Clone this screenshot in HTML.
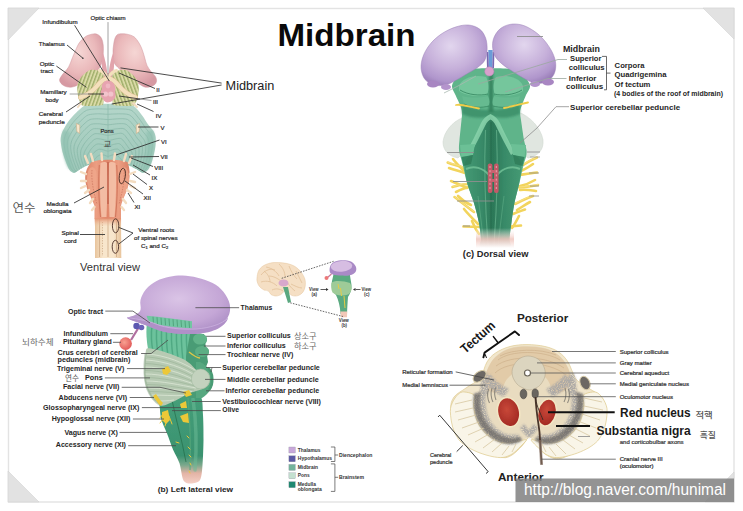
<!DOCTYPE html>
<html lang="ko"><head><meta charset="utf-8"><title>Midbrain</title>
<style>
html,body{margin:0;padding:0;background:#fff;}
body{width:743px;height:511px;overflow:hidden;font-family:"Liberation Sans","Noto Sans CJK KR",sans-serif;}
svg{display:block;}
svg text{font-family:"Liberation Sans","Noto Sans CJK KR",sans-serif;}
</style></head><body>
<svg width="743" height="511" viewBox="0 0 743 511">
<defs>
<filter id="soft" x="-5%" y="-5%" width="110%" height="110%"><feGaussianBlur stdDeviation="0.45"/></filter>
<filter id="soft2" x="-10%" y="-10%" width="120%" height="120%"><feGaussianBlur stdDeviation="1.2"/></filter>
<filter id="soft3" x="-20%" y="-20%" width="140%" height="140%"><feGaussianBlur stdDeviation="2.5"/></filter>
<filter id="stipple" x="-10%" y="-10%" width="120%" height="120%"><feGaussianBlur in="SourceGraphic" stdDeviation="1.1" result="sg"/><feTurbulence type="fractalNoise" baseFrequency="0.85" numOctaves="2" seed="3" result="n"/><feColorMatrix in="n" type="matrix" values="0 0 0 0 0.42  0 0 0 0 0.40  0 0 0 0 0.38  0 0 0 -2.6 2.15" result="nn"/><feComposite operator="in" in="nn" in2="sg"/><feGaussianBlur stdDeviation="0.35"/></filter>
<filter id="tblur"><feGaussianBlur stdDeviation="0.3"/></filter>
<radialGradient id="gPinkL" cx="45%" cy="35%" r="65%"><stop offset="0" stop-color="#f5d6d4"/><stop offset="0.6" stop-color="#eab8ba"/><stop offset="1" stop-color="#d699a2"/></radialGradient>
<radialGradient id="gPinkR" cx="50%" cy="35%" r="65%"><stop offset="0" stop-color="#f5d6d4"/><stop offset="0.6" stop-color="#eab8ba"/><stop offset="1" stop-color="#d699a2"/></radialGradient>
<linearGradient id="gPons" x1="0" y1="0" x2="0" y2="1"><stop offset="0" stop-color="#b4d6ca"/><stop offset="1" stop-color="#9cc7b8"/></linearGradient>
<linearGradient id="gMed" x1="0" y1="0" x2="1" y2="0"><stop offset="0" stop-color="#dc8468"/><stop offset="0.25" stop-color="#ec9e82"/><stop offset="0.5" stop-color="#e0866a"/><stop offset="0.75" stop-color="#ec9e82"/><stop offset="1" stop-color="#d98066"/></linearGradient>
<linearGradient id="gMedFade" x1="0" y1="0" x2="0" y2="1"><stop offset="0" stop-color="#e49474" stop-opacity="1"/><stop offset="1" stop-color="#f0c0a0" stop-opacity="0"/></linearGradient>
<linearGradient id="gCord" x1="0" y1="0" x2="1" y2="0"><stop offset="0" stop-color="#e8c49c"/><stop offset="0.3" stop-color="#f8e6cc"/><stop offset="0.7" stop-color="#f8e6cc"/><stop offset="1" stop-color="#e8c49c"/></linearGradient>
<pattern id="pStripe" width="3.3" height="8" patternUnits="userSpaceOnUse" patternTransform="rotate(20)"><rect width="3.3" height="8" fill="#dadaa6"/><rect width="1.4" height="8" fill="#a0ae6a"/></pattern>
<pattern id="pStripeR" width="3.3" height="8" patternUnits="userSpaceOnUse" patternTransform="rotate(-20)"><rect width="3.3" height="8" fill="#dadaa6"/><rect width="1.4" height="8" fill="#a0ae6a"/></pattern>
<radialGradient id="gPurL" cx="45%" cy="35%" r="68%"><stop offset="0" stop-color="#e2d6ee"/><stop offset="0.55" stop-color="#c6b0da"/><stop offset="0.85" stop-color="#b096cc"/><stop offset="1" stop-color="#9a7eb8"/></radialGradient>
<radialGradient id="gPurR" cx="50%" cy="35%" r="68%"><stop offset="0" stop-color="#e2d6ee"/><stop offset="0.55" stop-color="#c6b0da"/><stop offset="0.85" stop-color="#b096cc"/><stop offset="1" stop-color="#9a7eb8"/></radialGradient>
<linearGradient id="gGreenD" x1="0" y1="0" x2="1" y2="0"><stop offset="0" stop-color="#459a74"/><stop offset="0.3" stop-color="#388a68"/><stop offset="0.5" stop-color="#2c7858"/><stop offset="0.7" stop-color="#388a68"/><stop offset="1" stop-color="#459a74"/></linearGradient>
<linearGradient id="gFadeD" x1="0" y1="0" x2="0" y2="1"><stop offset="0" stop-color="#fff" stop-opacity="0"/><stop offset="0.55" stop-color="#f0c8c0" stop-opacity="0.9"/><stop offset="1" stop-color="#fff" stop-opacity="1"/></linearGradient>
<radialGradient id="gPurLat" cx="50%" cy="40%" r="70%"><stop offset="0" stop-color="#dac4e6"/><stop offset="0.6" stop-color="#c4a6d6"/><stop offset="1" stop-color="#a284be"/></radialGradient>
<linearGradient id="gMedLat" x1="0" y1="0" x2="0" y2="1"><stop offset="0" stop-color="#46a07a"/><stop offset="0.7" stop-color="#3a9270"/><stop offset="0.8" stop-color="#7aa88c"/><stop offset="0.89" stop-color="#e4b4a6"/><stop offset="1" stop-color="#f4d0c6"/></linearGradient>
<radialGradient id="gPit" cx="40%" cy="40%" r="65%"><stop offset="0" stop-color="#f8a090"/><stop offset="1" stop-color="#e05858"/></radialGradient>
<radialGradient id="gRed" cx="45%" cy="40%" r="70%"><stop offset="0" stop-color="#c84838"/><stop offset="1" stop-color="#9c2420"/></radialGradient>
<radialGradient id="gCS" cx="50%" cy="45%" r="65%"><stop offset="0" stop-color="#e4d6bc"/><stop offset="1" stop-color="#f3ead2"/></radialGradient>
</defs>
<rect x="0" y="0" width="743" height="511" fill="#fff"/>
<rect x="8.5" y="8.5" width="725.5" height="493.5" fill="#fff" stroke="#e3e3e3" stroke-width="1.4"/>
<path d="M8 8 L39 8 L8 40 Z" fill="#e2e2e2" stroke="#d4d4d4" stroke-width="0.6"/>
<path d="M734 8 L703 8 L734 39 Z" fill="#e2e2e2" stroke="#d4d4d4" stroke-width="0.6"/>
<path d="M8 502 L8 471 L39 502 Z" fill="#e2e2e2" stroke="#d4d4d4" stroke-width="0.6"/>
<path d="M734 502 L734 472 L705 502 Z" fill="#e2e2e2" stroke="#d4d4d4" stroke-width="0.6"/>
<text x="277.5" y="46" font-size="32" font-weight="bold" textLength="138" lengthAdjust="spacingAndGlyphs" fill="#0a0a0a">Midbrain</text>
<g id="ventral">
<g filter="url(#soft)">
<path d="M95 214 L121 214 L121.3 258 L95 258 Z" fill="url(#gCord)"/>
<path d="M99.5 219 L99.5 257 M108 219 L108 257 M116.5 219 L116.5 257" stroke="#c9a27c" stroke-width="0.7" fill="none"/>
<path d="M102.5 222 L102.5 256" stroke="#caa884" stroke-width="0.8" stroke-dasharray="1.2 1.4" fill="none"/>
<clipPath id="cpPons"><path d="M108.0 103.8 C111.6 103.8 116.3 103.7 120.0 104.0 C123.7 104.3 129.7 104.1 132.8 105.6 C136.0 107.1 138.6 111.1 141.0 114.0 C143.4 116.9 146.7 122.5 148.6 125.0 C150.5 127.5 152.4 129.2 153.5 131.0 C154.6 132.8 155.4 134.8 155.7 137.0 C156.0 139.2 155.8 143.4 155.5 146.0 C155.2 148.6 154.6 151.4 154.0 154.0 C153.4 156.6 152.4 160.6 151.5 163.0 C150.6 165.4 149.3 168.5 148.0 170.0 C146.7 171.5 144.3 172.8 143.0 173.0 C141.7 173.2 140.7 171.7 139.5 171.0 C138.3 170.3 136.4 169.2 135.0 168.5 C133.6 167.8 131.7 166.7 130.0 166.0 C128.3 165.3 126.1 164.6 124.0 164.0 C121.9 163.4 118.4 162.4 116.0 162.0 C113.6 161.6 110.4 161.5 108.0 161.5 C105.6 161.5 102.4 161.6 100.0 162.0 C97.6 162.4 94.1 163.4 92.0 164.0 C89.9 164.6 87.6 165.3 86.0 166.0 C84.4 166.7 82.8 167.8 81.5 168.5 C80.2 169.2 78.6 170.3 77.5 171.0 C76.4 171.7 75.2 173.2 74.0 173.0 C72.8 172.8 70.7 171.7 69.5 170.0 C68.3 168.3 67.0 164.7 65.9 162.0 C64.9 159.3 63.3 155.2 62.5 152.0 C61.7 148.8 60.8 143.5 60.6 140.8 C60.5 138.1 61.0 135.8 61.5 134.0 C62.0 132.2 63.0 130.3 64.0 128.5 C65.0 126.7 66.7 123.9 68.0 122.0 C69.3 120.1 71.2 117.8 72.9 116.0 C74.6 114.2 77.2 111.6 79.0 110.0 C80.8 108.4 82.7 106.5 85.2 105.6 C87.8 104.7 92.6 104.3 96.0 104.0 C99.4 103.7 104.4 103.8 108.0 103.8 Z"/></clipPath>
<path d="M108.0 103.8 C111.6 103.8 116.3 103.7 120.0 104.0 C123.7 104.3 129.7 104.1 132.8 105.6 C136.0 107.1 138.6 111.1 141.0 114.0 C143.4 116.9 146.7 122.5 148.6 125.0 C150.5 127.5 152.4 129.2 153.5 131.0 C154.6 132.8 155.4 134.8 155.7 137.0 C156.0 139.2 155.8 143.4 155.5 146.0 C155.2 148.6 154.6 151.4 154.0 154.0 C153.4 156.6 152.4 160.6 151.5 163.0 C150.6 165.4 149.3 168.5 148.0 170.0 C146.7 171.5 144.3 172.8 143.0 173.0 C141.7 173.2 140.7 171.7 139.5 171.0 C138.3 170.3 136.4 169.2 135.0 168.5 C133.6 167.8 131.7 166.7 130.0 166.0 C128.3 165.3 126.1 164.6 124.0 164.0 C121.9 163.4 118.4 162.4 116.0 162.0 C113.6 161.6 110.4 161.5 108.0 161.5 C105.6 161.5 102.4 161.6 100.0 162.0 C97.6 162.4 94.1 163.4 92.0 164.0 C89.9 164.6 87.6 165.3 86.0 166.0 C84.4 166.7 82.8 167.8 81.5 168.5 C80.2 169.2 78.6 170.3 77.5 171.0 C76.4 171.7 75.2 173.2 74.0 173.0 C72.8 172.8 70.7 171.7 69.5 170.0 C68.3 168.3 67.0 164.7 65.9 162.0 C64.9 159.3 63.3 155.2 62.5 152.0 C61.7 148.8 60.8 143.5 60.6 140.8 C60.5 138.1 61.0 135.8 61.5 134.0 C62.0 132.2 63.0 130.3 64.0 128.5 C65.0 126.7 66.7 123.9 68.0 122.0 C69.3 120.1 71.2 117.8 72.9 116.0 C74.6 114.2 77.2 111.6 79.0 110.0 C80.8 108.4 82.7 106.5 85.2 105.6 C87.8 104.7 92.6 104.3 96.0 104.0 C99.4 103.7 104.4 103.8 108.0 103.8 Z" fill="url(#gPons)"/>
<g fill="none" stroke="#82b3a3" stroke-width="0.7" opacity="0.85" clip-path="url(#cpPons)"><path d="M78.2 172.0 C77.3 171.7 73.6 171.5 72.2 170.1 C70.8 168.7 69.8 165.2 68.8 162.7 C67.9 160.2 66.4 156.4 65.7 153.4 C64.9 150.4 64.1 145.5 63.9 143.0 C63.8 140.5 64.3 138.4 64.8 136.7 C65.2 134.9 66.2 133.2 67.1 131.5 C68.0 129.9 69.6 127.2 70.8 125.5 C72.0 123.8 73.8 121.6 75.4 119.9 C76.9 118.2 79.3 115.8 81.0 114.3 C82.7 112.9 84.4 111.1 86.8 110.2 C89.2 109.4 93.7 109.0 96.8 108.9 C100.0 108.7 104.7 109.1 108.0 109.1 C111.3 109.1 115.7 108.7 119.2 108.9 C122.6 109.0 128.1 108.9 131.1 110.2 C134.0 111.6 136.5 115.4 138.7 118.1 C140.9 120.8 144.0 125.9 145.8 128.3 C147.5 130.7 149.3 132.2 150.3 133.9 C151.3 135.5 152.1 137.4 152.4 139.4 C152.6 141.5 152.4 145.4 152.2 147.8 C151.9 150.2 151.3 152.9 150.8 155.3 C150.2 157.6 149.3 161.4 148.5 163.6 C147.6 165.9 146.7 168.9 145.2 170.1 C143.7 171.4 139.7 171.7 138.7 172.0"/><path d="M80.5 172.0 C79.6 171.7 76.2 171.6 74.9 170.3 C73.6 169.0 72.7 165.7 71.8 163.4 C70.9 161.1 69.6 157.5 68.9 154.8 C68.2 152.1 67.4 147.5 67.2 145.2 C67.1 142.8 67.6 140.9 68.0 139.3 C68.4 137.7 69.3 136.1 70.2 134.6 C71.0 133.0 72.5 130.6 73.6 129.0 C74.7 127.4 76.4 125.4 77.8 123.8 C79.2 122.3 81.5 120.0 83.1 118.7 C84.6 117.3 86.2 115.6 88.4 114.9 C90.6 114.2 94.7 113.9 97.7 113.8 C100.6 113.7 104.9 114.3 108.0 114.3 C111.1 114.3 115.1 113.7 118.3 113.8 C121.5 113.9 126.6 113.6 129.3 114.9 C132.0 116.1 134.3 119.6 136.4 122.1 C138.4 124.6 141.3 129.4 142.9 131.6 C144.5 133.8 146.2 135.2 147.1 136.7 C148.0 138.3 148.8 140.0 149.0 141.9 C149.3 143.8 149.1 147.4 148.8 149.6 C148.6 151.8 148.1 154.3 147.6 156.5 C147.0 158.7 146.2 162.2 145.4 164.3 C144.6 166.3 143.8 169.1 142.4 170.3 C141.0 171.4 137.3 171.7 136.4 172.0"/><path d="M82.7 172.0 C81.9 171.8 78.8 171.6 77.6 170.4 C76.4 169.2 75.6 166.2 74.7 164.1 C73.9 162.0 72.7 158.7 72.1 156.2 C71.4 153.7 70.7 149.5 70.6 147.4 C70.4 145.2 70.9 143.4 71.3 142.0 C71.7 140.5 72.5 139.1 73.2 137.6 C74.0 136.2 75.3 134.0 76.4 132.5 C77.5 131.0 79.0 129.2 80.3 127.8 C81.6 126.3 83.6 124.3 85.1 123.0 C86.5 121.8 88.0 120.2 90.0 119.5 C92.0 118.9 95.8 118.7 98.5 118.8 C101.2 118.8 105.2 119.6 108.0 119.6 C110.8 119.6 114.5 118.8 117.5 118.8 C120.4 118.7 125.1 118.4 127.6 119.5 C130.1 120.7 132.2 123.9 134.1 126.2 C135.9 128.5 138.6 132.9 140.1 134.9 C141.6 136.9 143.1 138.2 143.9 139.6 C144.8 141.0 145.4 142.6 145.7 144.3 C145.9 146.1 145.7 149.4 145.5 151.5 C145.3 153.5 144.8 155.8 144.3 157.8 C143.9 159.8 143.1 163.0 142.4 164.9 C141.7 166.8 140.8 169.4 139.6 170.4 C138.4 171.5 134.9 171.8 134.1 172.0"/><path d="M85.0 172.0 C84.3 171.8 81.4 171.6 80.3 170.6 C79.2 169.5 78.4 166.7 77.7 164.8 C76.9 162.9 75.8 159.9 75.2 157.6 C74.7 155.3 74.0 151.5 73.9 149.5 C73.8 147.6 74.2 146.0 74.5 144.6 C74.9 143.3 75.6 142.0 76.3 140.7 C77.0 139.4 78.2 137.3 79.2 136.0 C80.2 134.7 81.5 133.0 82.7 131.7 C83.9 130.4 85.8 128.5 87.1 127.4 C88.4 126.2 89.7 124.7 91.6 124.2 C93.4 123.7 96.9 123.7 99.4 123.8 C101.8 123.9 105.4 124.9 108.0 124.9 C110.6 124.9 114.0 123.9 116.6 123.8 C119.3 123.7 123.6 123.2 125.9 124.2 C128.1 125.2 130.1 128.1 131.8 130.2 C133.5 132.3 135.9 136.3 137.2 138.2 C138.6 140.0 140.0 141.2 140.8 142.5 C141.5 143.8 142.1 145.2 142.3 146.8 C142.6 148.4 142.4 151.4 142.2 153.3 C142.0 155.1 141.6 157.2 141.1 159.0 C140.7 160.9 140.0 163.8 139.3 165.5 C138.7 167.2 137.9 169.6 136.8 170.6 C135.7 171.5 132.5 171.8 131.8 172.0"/><path d="M87.2 172.0 C86.6 171.8 84.0 171.7 83.0 170.7 C82.0 169.7 81.3 167.3 80.6 165.5 C80.0 163.7 78.9 161.1 78.4 159.0 C77.9 156.9 77.3 153.5 77.2 151.7 C77.1 150.0 77.4 148.5 77.8 147.3 C78.1 146.1 78.8 144.9 79.4 143.7 C80.0 142.6 81.1 140.7 82.0 139.5 C82.9 138.3 84.1 136.8 85.2 135.6 C86.3 134.4 88.0 132.7 89.2 131.7 C90.3 130.7 91.5 129.3 93.2 128.8 C94.8 128.4 98.0 128.7 100.2 128.9 C102.4 129.1 105.7 130.1 108.0 130.1 C110.3 130.1 113.4 129.1 115.8 128.9 C118.2 128.7 122.1 128.0 124.1 128.8 C126.2 129.7 127.9 132.4 129.4 134.3 C131.0 136.2 133.2 139.8 134.4 141.4 C135.6 143.1 136.9 144.2 137.6 145.3 C138.3 146.5 138.8 147.8 139.0 149.2 C139.2 150.7 139.0 153.4 138.9 155.1 C138.7 156.8 138.3 158.6 137.9 160.3 C137.5 162.0 136.9 164.6 136.3 166.2 C135.7 167.7 135.0 169.8 134.0 170.7 C133.0 171.6 130.1 171.8 129.4 172.0"/><path d="M89.4 172.0 C88.9 171.8 86.5 171.7 85.7 170.8 C84.8 170.0 84.2 167.8 83.6 166.2 C83.0 164.6 82.1 162.2 81.6 160.4 C81.1 158.6 80.6 155.5 80.5 153.9 C80.4 152.3 80.7 151.0 81.0 150.0 C81.3 148.9 81.9 147.8 82.5 146.8 C83.0 145.7 84.0 144.1 84.8 143.0 C85.6 141.9 86.7 140.6 87.6 139.5 C88.6 138.5 90.1 136.9 91.2 136.0 C92.3 135.2 93.3 134.0 94.8 133.7 C96.3 133.4 99.1 133.8 101.0 134.0 C103.0 134.3 105.9 135.4 108.0 135.4 C110.1 135.4 112.8 134.3 115.0 134.0 C117.1 133.8 120.6 132.8 122.4 133.5 C124.2 134.1 125.8 136.7 127.1 138.4 C128.5 140.0 130.5 143.3 131.5 144.7 C132.6 146.2 133.8 147.2 134.4 148.2 C135.0 149.3 135.5 150.4 135.7 151.7 C135.8 153.0 135.7 155.4 135.6 156.9 C135.4 158.4 135.0 160.1 134.7 161.6 C134.3 163.0 133.8 165.4 133.2 166.8 C132.7 168.2 132.1 170.1 131.2 170.8 C130.3 171.6 127.7 171.8 127.1 172.0"/><path d="M91.7 172.0 C91.2 171.8 89.1 171.7 88.4 171.0 C87.6 170.2 87.1 168.3 86.5 166.9 C86.0 165.5 85.2 163.4 84.8 161.8 C84.4 160.2 83.9 157.5 83.8 156.1 C83.7 154.7 84.0 153.6 84.3 152.6 C84.5 151.7 85.1 150.7 85.6 149.8 C86.1 148.9 86.9 147.5 87.6 146.5 C88.3 145.5 89.3 144.4 90.1 143.4 C90.9 142.5 92.3 141.1 93.2 140.4 C94.2 139.7 95.1 138.9 96.4 138.7 C97.7 138.5 100.1 139.0 101.9 139.3 C103.6 139.5 106.2 140.6 108.0 140.6 C109.8 140.6 112.2 139.6 114.1 139.3 C116.0 138.9 119.0 138.0 120.6 138.5 C122.3 138.9 123.6 141.0 124.8 142.4 C126.0 143.9 127.7 146.7 128.7 148.0 C129.7 149.3 130.7 150.2 131.2 151.1 C131.7 152.0 132.2 153.0 132.3 154.2 C132.5 155.3 132.4 157.4 132.2 158.7 C132.1 160.0 131.8 161.5 131.5 162.8 C131.2 164.1 130.6 166.2 130.2 167.4 C129.7 168.6 129.2 170.3 128.4 171.0 C127.6 171.7 125.4 171.8 124.8 172.0"/><path d="M93.9 172.0 C93.5 171.9 91.7 171.8 91.1 171.1 C90.4 170.5 89.9 168.8 89.5 167.6 C89.0 166.4 88.3 164.6 88.0 163.2 C87.6 161.8 87.2 159.5 87.1 158.3 C87.1 157.1 87.3 156.1 87.5 155.3 C87.8 154.5 88.2 153.7 88.6 152.9 C89.1 152.1 89.8 150.8 90.4 150.0 C91.0 149.2 91.8 148.1 92.6 147.4 C93.3 146.6 94.4 145.6 95.2 145.1 C96.1 144.5 96.8 144.0 98.0 143.9 C99.1 143.8 101.2 144.2 102.7 144.5 C104.2 144.8 106.4 145.9 108.0 145.9 C109.6 145.9 111.6 144.9 113.3 144.5 C114.9 144.2 117.5 143.4 118.9 143.6 C120.3 143.9 121.5 145.3 122.5 146.5 C123.6 147.6 125.0 150.2 125.9 151.3 C126.7 152.4 127.6 153.2 128.0 154.0 C128.5 154.8 128.9 155.6 129.0 156.6 C129.1 157.6 129.0 159.4 128.9 160.6 C128.8 161.7 128.5 163.0 128.2 164.1 C128.0 165.2 127.5 167.0 127.1 168.0 C126.7 169.1 126.3 170.5 125.6 171.1 C124.9 171.7 123.0 171.9 122.5 172.0"/><path d="M96.2 172.7 C95.8 172.5 94.3 171.9 93.8 171.3 C93.2 170.6 92.8 169.3 92.4 168.3 C92.0 167.3 91.5 165.8 91.2 164.6 C90.9 163.4 90.5 161.5 90.5 160.5 C90.4 159.5 90.6 158.6 90.8 157.9 C91.0 157.3 91.4 156.6 91.7 155.9 C92.1 155.2 92.7 154.1 93.2 153.5 C93.7 152.9 94.4 152.1 95.0 151.6 C95.6 151.1 96.6 150.5 97.3 150.1 C98.0 149.7 98.6 149.2 99.6 149.2 C100.5 149.1 102.3 149.6 103.6 149.9 C104.8 150.2 106.7 151.2 108.0 151.2 C109.3 151.2 111.1 150.2 112.4 149.9 C113.8 149.5 116.0 148.8 117.2 149.0 C118.3 149.1 119.3 150.3 120.2 151.1 C121.1 152.0 122.3 153.8 123.0 154.6 C123.7 155.5 124.4 156.2 124.8 156.8 C125.2 157.5 125.5 158.2 125.6 159.1 C125.8 159.9 125.7 161.4 125.6 162.4 C125.5 163.3 125.2 164.4 125.0 165.3 C124.8 166.3 124.4 167.8 124.1 168.7 C123.8 169.6 123.4 170.7 122.8 171.3 C122.2 171.8 120.6 172.4 120.2 172.6"/><path d="M98.4 173.5 C98.1 173.3 96.9 172.9 96.5 172.3 C96.0 171.6 95.7 170.4 95.4 169.5 C95.1 168.6 94.6 167.1 94.3 166.1 C94.1 165.1 93.8 163.5 93.8 162.6 C93.7 161.8 93.9 161.1 94.0 160.6 C94.2 160.1 94.5 159.7 94.8 159.2 C95.1 158.8 95.6 158.1 96.0 157.7 C96.4 157.3 97.0 156.8 97.5 156.4 C98.0 156.0 98.7 155.5 99.3 155.3 C99.9 155.0 100.4 154.6 101.2 154.6 C101.9 154.6 103.4 155.0 104.4 155.2 C105.4 155.5 106.9 156.4 108.0 156.4 C109.1 156.4 110.5 155.5 111.6 155.2 C112.7 154.9 114.5 154.3 115.4 154.4 C116.4 154.5 117.2 155.4 117.9 156.0 C118.6 156.7 119.6 158.0 120.2 158.5 C120.7 159.1 121.3 159.4 121.7 159.8 C122.0 160.3 122.2 160.8 122.3 161.5 C122.4 162.2 122.3 163.4 122.2 164.2 C122.2 165.0 122.0 165.9 121.8 166.7 C121.6 167.5 121.3 168.8 121.0 169.6 C120.8 170.4 120.5 171.5 120.0 172.1 C119.5 172.7 118.2 173.2 117.9 173.4"/></g>
<path d="M108 104 L108 158" stroke="#8fbcae" stroke-width="1.2" fill="none" opacity="0.7"/>
<g filter="url(#soft2)"><path d="M63 130 C61 142 62 156 68 168 L74 171 C69 158 68 144 70 132 Z" fill="#8fc0b0" opacity="0.7"/><path d="M153 130 C155 142 154 156 148 168 L142 171 C147 158 148 144 146 132 Z" fill="#8fc0b0" opacity="0.7"/></g>
<path d="M91.5 162 C97 159 120 159 127.5 162 C130 168 130 175 129 182 C127 192 122 200 121 206 L121 219 L94.5 219 L94.5 206 C93 200 87 192 85.5 182 C84.5 175 86 168 91.5 162 Z" fill="url(#gMed)"/>
<g filter="url(#soft)">
<path d="M100.5 163 C103 161.5 106 161.5 107 163 C107.5 180 107.3 200 106.5 217 L101.5 217 C100 200 99.5 180 100.5 163 Z" fill="#f6c4ac" opacity="0.85"/>
<path d="M115.5 163 C113 161.5 110 161.5 109 163 C108.5 180 108.7 200 109.5 217 L114.5 217 C116 200 116.5 180 115.5 163 Z" fill="#f6c4ac" opacity="0.85"/>
<path d="M90 168 C93 166 96 168 96.5 174 C97 184 96 194 94.5 200 C91 196 87.5 188 87 180 C87 175 88 170 90 168 Z" fill="#f0a88c" opacity="0.8"/>
<path d="M126 168 C123 166 120 168 119.5 174 C119 184 120 194 121.5 200 C125 196 128.5 188 129 180 C129 175 128 170 126 168 Z" fill="#f0a88c" opacity="0.8"/>
</g>
<path d="M108 162 L108 204" stroke="#b4523e" stroke-width="1" fill="none"/>
<path d="M99.3 165 C98.3 180 98.5 198 100.5 217 M116.7 165 C117.7 180 117.5 198 115.5 217" stroke="#c86a52" stroke-width="0.9" fill="none" opacity="0.85"/>
<path d="M92 170 C91 180 94 194 97 204 M124 170 C125 180 122 194 119 204" stroke="#c8705a" stroke-width="0.8" stroke-dasharray="1.5 1.2" fill="none" opacity="0.8"/>
<rect x="94.6" y="218.5" width="26.4" height="8" fill="url(#gMedFade)"/>
<g stroke="#f3dcc0" stroke-width="2.4" stroke-linecap="round" fill="none"><path d="M88 163 L85 156"/><path d="M93 161 L91 154"/><path d="M102 160 L101.5 153.5"/><path d="M114 160 L115 153.5"/><path d="M124 161 L126 154"/><path d="M129 163 L132 156"/><path d="M86 174 L81 172"/><path d="M86 181 L81 181"/><path d="M130 174 L135 172"/><path d="M130 181 L135 182"/><path d="M127 190 L131 193"/><path d="M89 190 L85 193"/><path d="M85.5 186 L81 188"/><path d="M130.5 186 L135 188"/><path d="M123 199 L126 203"/><path d="M93 199 L90 203"/><path d="M121.5 207 L124 210"/><path d="M94.5 207 L92 210"/></g>
<path d="M76.3 123.5 L79.8 125 L79.6 133.5 L76.8 131.5 Z" fill="#f7e6cc" stroke="#c9a67c" stroke-width="0.5"/>
<path d="M139.7 123.5 L136.2 125 L136.4 133.5 L139.2 131.5 Z" fill="#f7e6cc" stroke="#c9a67c" stroke-width="0.5"/>
<path d="M93.6 33.9 C95.6 33.7 97.2 34.2 98.5 35.0 C99.8 35.8 100.9 37.0 101.7 38.7 C102.5 40.4 102.9 42.8 103.2 45.0 C103.5 47.2 103.4 49.7 103.3 52.0 C103.2 54.3 103.2 56.7 102.7 59.0 C102.2 61.3 101.5 64.0 100.5 66.0 C99.5 68.0 98.8 69.3 97.0 71.0 C95.2 72.7 92.2 74.3 90.0 76.0 C87.8 77.7 85.8 79.6 84.0 81.0 C82.2 82.4 81.3 83.5 79.1 84.5 C76.9 85.5 73.6 87.0 71.0 87.2 C68.4 87.4 65.6 86.7 63.7 85.6 C61.8 84.5 59.9 82.5 59.6 80.7 C59.3 79.0 60.6 77.4 62.1 75.1 C63.6 72.8 66.8 70.0 68.6 67.0 C70.3 64.0 71.1 60.8 72.6 57.3 C74.1 53.8 76.1 48.8 77.5 46.0 C78.9 43.2 79.6 42.3 81.1 40.6 C82.6 38.9 84.4 37.1 86.5 36.0 C88.6 34.9 91.6 34.1 93.6 33.9 Z" fill="url(#gPinkL)" stroke="#cf949c" stroke-width="0.5"/>
<path d="M119.5 33.9 C121.2 33.7 124.6 33.7 127.0 34.2 C129.4 34.7 132.0 35.3 134.0 36.8 C136.0 38.3 137.7 40.9 139.0 43.0 C140.3 45.1 141.1 46.9 142.0 49.2 C142.9 51.5 143.7 54.3 144.5 57.0 C145.3 59.7 145.9 63.0 147.0 65.4 C148.1 67.8 149.6 69.6 151.0 71.5 C152.4 73.4 154.6 75.0 155.5 76.7 C156.4 78.4 156.8 80.0 156.5 81.5 C156.2 83.0 155.3 84.5 153.4 85.5 C151.5 86.5 148.0 87.7 145.3 87.2 C142.6 86.7 139.8 84.3 137.2 82.5 C134.6 80.7 132.4 78.2 130.0 76.5 C127.6 74.8 125.1 73.6 123.0 72.0 C120.9 70.4 119.0 68.6 117.5 67.0 C116.0 65.4 114.8 64.6 114.0 62.2 C113.2 59.8 113.1 55.4 113.0 52.5 C112.9 49.6 113.3 47.2 113.6 45.0 C113.9 42.8 114.1 41.1 114.6 39.5 C115.1 37.9 115.7 36.4 116.5 35.5 C117.3 34.6 117.8 34.1 119.5 33.9 Z" fill="url(#gPinkR)" stroke="#cf949c" stroke-width="0.5"/>
<path d="M102.5 52 C105 58 106.5 66 107.3 73 L108.7 73 C109.5 66 111 58 113.5 52 C115 62 114 72 111.5 79 L104.5 79 C102 72 101 62 102.5 52 Z" fill="#e2a4ac"/>
<path d="M90 70 C95 69 100 70.5 103 73 C105 80 105 95 103 105 C96 106 88 106.5 82 105.5 C78 100 76 90 78 82 C81 76 86 72 90 70 Z" fill="url(#pStripe)"/>
<path d="M126 70 C121 69 116 70.5 113 73 C111 80 111 95 113 105 C120 106 128 106.5 134 105.5 C138 100 140 90 138 82 C135 76 130 72 126 70 Z" fill="url(#pStripeR)"/>
<path d="M107.5 78.5 C103 79 100 82 97 86 C92 92 86 95.5 80.5 97.5" fill="none" stroke="#dcbc90" stroke-width="5" stroke-linecap="round"/>
<path d="M108.5 78.5 C113 79 116 82 119 86 C124 92 130 95.5 135.5 97.5" fill="none" stroke="#dcbc90" stroke-width="5" stroke-linecap="round"/>
<path d="M107.5 78.5 C103 79 100 82 97 86 C92 92 86 95.5 80.5 97.5" fill="none" stroke="#f4e0bc" stroke-width="4" stroke-linecap="round"/>
<path d="M108.5 78.5 C113 79 116 82 119 86 C124 92 130 95.5 135.5 97.5" fill="none" stroke="#f4e0bc" stroke-width="4" stroke-linecap="round"/>
<path d="M99.5 70.5 C102 71 105.5 74 108 77.5 C110.5 74 114 71 116.5 70.5" fill="none" stroke="#f4e0bc" stroke-width="3" stroke-linecap="round"/>
<path d="M104 82 C106 80 110 80 112 82 C115 84 116 88 115 92 C117 96 114 101 110 102 C107 103 104 102 103 99 C100 96 100 92 102 89 C101 86 102 84 104 82 Z" fill="#e7a4b0"/>
<circle cx="105.5" cy="94" r="2.6" fill="#f2c4cc"/><circle cx="110.8" cy="94" r="2.6" fill="#f2c4cc"/><circle cx="108" cy="86" r="2.4" fill="#efb8c2"/>
<path d="M133 103 L137 107" stroke="#f3dcc0" stroke-width="2" stroke-linecap="round"/>
<path d="M81 103 L78 107" stroke="#f3dcc0" stroke-width="2" stroke-linecap="round"/>
</g>
<ellipse cx="122.3" cy="176" rx="3" ry="7.8" fill="none" stroke="#4a2e26" stroke-width="0.9" transform="rotate(8 122.3 176)"/>
<ellipse cx="115.6" cy="225.8" rx="3.2" ry="7" fill="none" stroke="#4a2e26" stroke-width="0.9"/>
<ellipse cx="115.4" cy="246.8" rx="3.2" ry="6.5" fill="none" stroke="#4a2e26" stroke-width="0.9"/>
<path d="M74.6 25.3 L109.3 81.1" fill="none" stroke="#2c2c2c" stroke-width="0.85"/>
<path d="M108 22.1 L108 76.5" fill="none" stroke="#8a8a8a" stroke-width="0.8"/>
<path d="M67 45 L82.9 58.2" fill="none" stroke="#2c2c2c" stroke-width="0.85"/>
<circle cx="82.9" cy="58.2" r="0.8" fill="#333"/>
<path d="M56.4 66.1 L86.4 87.3" fill="none" stroke="#2c2c2c" stroke-width="0.85"/>
<path d="M69.7 94 L88 94" fill="none" stroke="#9a9a9a" stroke-width="0.9"/>
<path d="M88 94 L104 94" fill="none" stroke="#2c2c2c" stroke-width="0.85"/>
<path d="M66 112 L90 96" fill="none" stroke="#2c2c2c" stroke-width="0.85"/>
<path d="M221.6 83.1 L120.5 67.9" fill="none" stroke="#2c2c2c" stroke-width="0.85"/>
<path d="M221.6 85 L111.7 104" fill="none" stroke="#2c2c2c" stroke-width="0.85"/>
<path d="M155 88.5 L119 73" fill="none" stroke="#2c2c2c" stroke-width="0.85"/>
<path d="M151.5 100.5 L140 99" fill="none" stroke="#9a9a9a" stroke-width="0.9"/>
<path d="M140 99 L119 96" fill="none" stroke="#2c2c2c" stroke-width="0.85"/>
<path d="M153.5 111.5 L137 104" fill="none" stroke="#2c2c2c" stroke-width="0.85"/>
<path d="M158.5 127 L138 127" fill="none" stroke="#2c2c2c" stroke-width="0.85"/>
<path d="M159.5 140 L116 155" fill="none" stroke="#2c2c2c" stroke-width="0.85"/>
<path d="M159 156.5 L129 157" fill="none" stroke="#2c2c2c" stroke-width="0.85"/>
<path d="M153 166.5 L131 158" fill="none" stroke="#2c2c2c" stroke-width="0.85"/>
<path d="M150 175 L133 165" fill="none" stroke="#2c2c2c" stroke-width="0.85"/>
<path d="M147 184.5 L133 174" fill="none" stroke="#2c2c2c" stroke-width="0.85"/>
<path d="M143 194 L125 181" fill="none" stroke="#2c2c2c" stroke-width="0.85"/>
<path d="M134 202.5 L128 193" fill="none" stroke="#2c2c2c" stroke-width="0.85"/>
<path d="M74 203 L104 187" fill="none" stroke="#2c2c2c" stroke-width="0.85"/>
<path d="M80 234.5 L105 234.5" fill="none" stroke="#2c2c2c" stroke-width="0.85"/>
<path d="M133 233 L119 227.5" fill="none" stroke="#2c2c2c" stroke-width="0.85"/>
<path d="M133 233 L118.8 244" fill="none" stroke="#2c2c2c" stroke-width="0.85"/>
<text x="42.3" y="23.5" font-size="6.2" textLength="35.3" lengthAdjust="spacingAndGlyphs" stroke="#2b2b2b" stroke-width="0.22" fill="#2b2b2b">Infundibulum</text>
<text x="90.4" y="20.3" font-size="6.2" textLength="35.3" lengthAdjust="spacingAndGlyphs" stroke="#2b2b2b" stroke-width="0.22" fill="#2b2b2b">Optic chiasm</text>
<text x="38.8" y="46.4" font-size="6.2" textLength="26" lengthAdjust="spacingAndGlyphs" stroke="#2b2b2b" stroke-width="0.22" fill="#2b2b2b">Thalamus</text>
<text x="39.7" y="66.1" font-size="6.2" textLength="14.5" lengthAdjust="spacingAndGlyphs" stroke="#2b2b2b" stroke-width="0.22" fill="#2b2b2b">Optic</text>
<text x="40.6" y="72.9" font-size="6.2" textLength="12.5" lengthAdjust="spacingAndGlyphs" stroke="#2b2b2b" stroke-width="0.22" fill="#2b2b2b">tract</text>
<text x="40.2" y="94.3" font-size="6.2" textLength="26.5" lengthAdjust="spacingAndGlyphs" stroke="#2b2b2b" stroke-width="0.22" fill="#2b2b2b">Mamillary</text>
<text x="45.5" y="102" font-size="6.2" textLength="13" lengthAdjust="spacingAndGlyphs" stroke="#2b2b2b" stroke-width="0.22" fill="#2b2b2b">body</text>
<text x="38.8" y="116" font-size="6.2" textLength="24" lengthAdjust="spacingAndGlyphs" stroke="#2b2b2b" stroke-width="0.22" fill="#2b2b2b">Cerebral</text>
<text x="38.8" y="123.8" font-size="6.2" textLength="26" lengthAdjust="spacingAndGlyphs" stroke="#2b2b2b" stroke-width="0.22" fill="#2b2b2b">peduncle</text>
<text x="100.5" y="133" font-size="6.2" textLength="13" lengthAdjust="spacingAndGlyphs" stroke="#2b2b2b" stroke-width="0.22" fill="#2b2b2b">Pons</text>
<text x="103.5" y="147" font-size="8.5" fill="#444">교</text>
<text x="156.3" y="91.9" font-size="6" stroke="#2b2b2b" stroke-width="0.22" fill="#2b2b2b">II</text>
<text x="153" y="103.9" font-size="6" stroke="#2b2b2b" stroke-width="0.22" fill="#2b2b2b">III</text>
<text x="155.8" y="117.7" font-size="6" stroke="#2b2b2b" stroke-width="0.22" fill="#2b2b2b">IV</text>
<text x="160.4" y="129.8" font-size="6" stroke="#2b2b2b" stroke-width="0.22" fill="#2b2b2b">V</text>
<text x="161.1" y="143.6" font-size="6" stroke="#2b2b2b" stroke-width="0.22" fill="#2b2b2b">VI</text>
<text x="160.4" y="158.9" font-size="6" stroke="#2b2b2b" stroke-width="0.22" fill="#2b2b2b">VII</text>
<text x="154.2" y="170.4" font-size="6" stroke="#2b2b2b" stroke-width="0.22" fill="#2b2b2b">VIII</text>
<text x="151.5" y="180" font-size="6" stroke="#2b2b2b" stroke-width="0.22" fill="#2b2b2b">IX</text>
<text x="149" y="189.5" font-size="6" stroke="#2b2b2b" stroke-width="0.22" fill="#2b2b2b">X</text>
<text x="143.5" y="199.5" font-size="6" stroke="#2b2b2b" stroke-width="0.22" fill="#2b2b2b">XII</text>
<text x="134.5" y="208.5" font-size="6" stroke="#2b2b2b" stroke-width="0.22" fill="#2b2b2b">XI</text>
<text x="225.6" y="89.6" font-size="12.3" textLength="48.7" lengthAdjust="spacingAndGlyphs" fill="#222">Midbrain</text>
<text x="12.5" y="211.5" font-size="11.5" textLength="23" lengthAdjust="spacingAndGlyphs" fill="#555">연수</text>
<text x="46.5" y="205.5" font-size="6.2" textLength="22" lengthAdjust="spacingAndGlyphs" stroke="#2b2b2b" stroke-width="0.22" fill="#2b2b2b">Medulla</text>
<text x="43.5" y="212.5" font-size="6.2" textLength="28" lengthAdjust="spacingAndGlyphs" stroke="#2b2b2b" stroke-width="0.22" fill="#2b2b2b">oblongata</text>
<text x="61.5" y="234.5" font-size="6.2" textLength="17.5" lengthAdjust="spacingAndGlyphs" stroke="#2b2b2b" stroke-width="0.22" fill="#2b2b2b">Spinal</text>
<text x="64" y="242.5" font-size="6.2" textLength="12.5" lengthAdjust="spacingAndGlyphs" stroke="#2b2b2b" stroke-width="0.22" fill="#2b2b2b">cord</text>
<text x="138.3" y="232" font-size="6.2" textLength="36" lengthAdjust="spacingAndGlyphs" stroke="#2b2b2b" stroke-width="0.22" fill="#2b2b2b">Ventral roots</text>
<text x="134" y="240" font-size="6.2" textLength="43.5" lengthAdjust="spacingAndGlyphs" stroke="#2b2b2b" stroke-width="0.22" fill="#2b2b2b">of spinal nerves</text>
<text x="141" y="248" font-size="6.2" fill="#2b2b2b" stroke="#2b2b2b" stroke-width="0.22">C<tspan font-size="4" dy="1">1</tspan><tspan dy="-1"> and C</tspan><tspan font-size="4" dy="1">2</tspan></text>
<text x="80" y="270.5" font-size="11" textLength="60" lengthAdjust="spacingAndGlyphs" fill="#333">Ventral view</text>
</g>
<g id="dorsal">
<g filter="url(#soft)">
<g stroke="#f2d45c" stroke-width="2.6" stroke-linecap="round" stroke-linejoin="round" fill="none"><path d="M447.7 162.5 C453 165 458 165 464 168"/><path d="M449 168 C454 170 459 171 465 173"/><path d="M453 159 C456 163 459 166 463 170"/><path d="M452.5 187 C457 186 462 184 468 184"/><path d="M451 181 C456 183 461 185 467 188"/><path d="M456 192 C460 190 464 188 469 187"/><path d="M454.5 197 C460 201 467 207 474 212"/><path d="M458 196 C462 200 466 203 471 205"/><path d="M464 209 C468 214 473 219 478 224"/><path d="M463.4 226.5 L481 227"/><path d="M472 221 C474 226 476 230 479 234"/><path d="M537 157.5 C531 160 526 163 520 167"/><path d="M537 172.5 C531 173 526 174 520 175"/><path d="M533 164 C529 167 525 169 521 171"/><path d="M538 185 C532 186 526 187 519 187.5"/><path d="M535 180 C530 183 525 185 520 186"/><path d="M536 191 C530 190 525 189 520 190"/><path d="M533 196 C527 198 521 201 515 204"/><path d="M530 202 C526 204 522 207 517 210"/><path d="M525 209.5 C521 211 517 212 513 214"/><path d="M521 225.5 L510 226.5"/><path d="M519 216 C517 220 515 224 512 228"/></g>
<g stroke="#f8e28c" stroke-width="0.9" stroke-linecap="round" fill="none" opacity="0.9"><path d="M448 162.3 C453 164.5 458 164.5 464 167.5"/><path d="M453 186.5 C457 185.5 462 183.5 468 183.5"/><path d="M455 197 C460 201 467 207 474 211.5"/><path d="M537 157.3 C531 159.5 526 162.5 520 166.5"/><path d="M538 184.5 C532 185.5 526 186.5 519 187"/><path d="M533 195.5 C527 197.5 521 200.5 515 203.5"/></g>
<path d="M462 118 C452 122 444 132 443 142 C443 150 448 156 458 158 L466 150 L466 124 Z" fill="#dbe2db" opacity="0.85" stroke="#c2ccc2" stroke-width="0.5"/>
<path d="M518 112 C530 116 541 128 543 140 C544 150 538 156 528 158 L518 150 L517 124 Z" fill="#dbe2db" opacity="0.85" stroke="#c2ccc2" stroke-width="0.5"/>
<path d="M512.0 69.0 C520.1 70.0 521.3 73.5 524.0 76.0 C526.7 78.5 529.7 83.2 530.0 86.0 C530.3 88.8 527.2 92.2 526.0 95.0 C524.8 97.8 522.9 102.5 522.0 105.0 C521.1 107.5 520.1 109.8 520.0 112.0 C519.9 114.2 520.4 115.8 521.0 120.0 C521.6 124.2 523.2 135.5 524.0 140.0 C524.8 144.5 526.2 147.4 526.5 150.0 C526.8 152.6 526.5 154.8 526.0 157.0 C525.5 159.2 524.5 160.9 523.5 165.0 C522.5 169.1 520.6 178.2 519.2 184.0 C517.8 189.8 515.5 197.8 514.3 203.7 C513.1 209.5 512.1 217.7 511.4 223.0 C510.7 228.3 509.8 235.4 509.4 239.0 C509.0 242.6 513.2 245.8 509.0 247.0 C504.8 248.2 485.7 248.2 481.5 247.0 C477.3 245.8 481.4 242.6 481.0 239.0 C480.6 235.4 480.0 228.3 479.0 223.0 C478.0 217.7 476.0 209.5 474.2 203.7 C472.4 197.8 469.0 189.8 467.3 184.0 C465.6 178.2 463.8 169.1 462.8 165.0 C461.8 160.9 461.2 159.2 460.6 157.0 C460.0 154.8 459.2 152.6 459.0 150.0 C458.8 147.4 459.1 144.5 459.5 140.0 C459.9 135.5 461.1 124.2 461.5 120.0 C461.9 115.8 462.2 114.2 462.0 112.0 C461.8 109.8 461.0 107.5 460.0 105.0 C459.0 102.5 456.7 97.8 455.5 95.0 C454.3 92.2 451.6 88.8 452.0 86.0 C452.4 83.2 455.3 78.5 458.0 76.0 C460.7 73.5 461.9 70.0 470.0 69.0 C478.1 68.0 503.9 68.0 512.0 69.0 Z" fill="#5eb48a"/>
<path d="M490.5 116.0 C492.2 116.0 494.9 121.1 497.0 124.0 C499.1 126.9 503.9 134.3 506.0 138.0 C508.1 141.7 511.1 149.1 513.0 152.0 C514.9 154.9 518.9 157.9 520.0 160.0 C521.1 162.1 521.6 164.8 521.5 168.0 C521.4 171.2 520.0 179.2 519.0 184.0 C518.0 188.8 515.3 198.5 514.3 203.7 C513.3 208.9 512.1 218.3 511.4 223.0 C510.7 227.7 509.7 235.8 509.4 239.0 C509.1 242.2 512.7 245.9 509.0 247.0 C505.3 248.1 485.2 248.1 481.5 247.0 C477.8 245.9 481.3 242.2 481.0 239.0 C480.7 235.8 479.9 227.7 479.0 223.0 C478.1 218.3 475.7 208.9 474.2 203.7 C472.7 198.5 468.8 188.8 467.5 184.0 C466.2 179.2 464.7 171.2 464.5 168.0 C464.3 164.8 465.0 162.1 466.0 160.0 C467.0 157.9 470.7 154.9 472.0 152.0 C473.3 149.1 474.4 141.7 476.0 138.0 C477.6 134.3 482.1 126.9 484.0 124.0 C485.9 121.1 488.8 116.0 490.5 116.0 Z" fill="url(#gGreenD)"/>
<g filter="url(#soft2)">
<path d="M462 104 C470 108 480 110 490 110 C500 110 512 108 520 104 L520 114 C512 118 500 119 490.5 116 C481 119 470 118 462 114 Z" fill="#3a8c66" opacity="0.8"/>
<path d="M489 72 L493 72 L493.5 112 L488.5 112 Z" fill="#2d7a56" opacity="0.8"/>
</g>
<g filter="url(#soft)">
<path d="M459 86 C462 78 474 74 486 77 C489 82 489 90 487 95 C478 97 466 96 459 91 Z" fill="#74c69c"/>
<path d="M523 86 C520 78 508 74 496 77 C493 82 493 90 495 95 C504 97 516 96 523 91 Z" fill="#74c69c"/>
<path d="M462 96 C470 98 480 98 488 96 C490 100 490 104 488 107 C480 109 470 108 464 104 Z" fill="#66ba90"/>
<path d="M520 96 C512 98 502 98 494 96 C492 100 492 104 494 107 C502 109 512 108 518 104 Z" fill="#66ba90"/>
<path d="M460 90 C468 95 480 96 488 94 M522 90 C514 95 502 96 494 94 M464 104 C472 108 482 108 489 106 M518 104 C510 108 500 108 493 106" stroke="#2f8059" stroke-width="1" fill="none" opacity="0.75"/>
</g>
<path d="M490.5 114 C486 116 483 119 481 123 C476 134 471 144 466 152 L470 155 C475 146 480 136 485 126 C487 122 489 120 490.5 119.5 C492 120 494 122 496 126 C501 136 506 146 511 155 L515 152 C510 144 505 134 500 123 C498 119 495 116 490.5 114 Z" fill="#86d0a8" opacity="0.9"/>
<path d="M460 145 L475 144 L473 155 L461.5 157 Z" fill="#6cc096"/><path d="M526 145 L511 144 L513 155 L524.5 157 Z" fill="#6cc096"/>
<path d="M461.5 157 L473 155 L471 164 L463.5 166 Z" fill="#2c7a58" opacity="0.8"/><path d="M524.5 157 L513 155 L515 164 L522.5 166 Z" fill="#2c7a58" opacity="0.8"/>
<path d="M491 122 L491 245" stroke="#256a4a" stroke-width="1.2" fill="none" opacity="0.8"/>
<path d="M485.5 130 C484 165 485 205 488 245 M496.5 130 C498 165 497 205 494 245" stroke="#6cb892" stroke-width="1.1" fill="none" opacity="0.65"/>
<path d="M478 196 C480 212 482 228 484 245 M504 196 C502 212 500 228 498 245" stroke="#62b088" stroke-width="1" fill="none" opacity="0.55"/>
<path d="M466 169 C474 165 483 168 489 175 M520 169 C512 165 503 168 497 175" stroke="#74c49a" stroke-width="2" fill="none" opacity="0.8"/>
<rect x="476" y="228" width="38" height="20" fill="url(#gFadeD)"/>
<rect x="487.8" y="163.5" width="4.6" height="29.5" rx="2" fill="#c25a68"/><rect x="494" y="163.5" width="4.6" height="29.5" rx="2" fill="#c25a68"/>
<rect x="489" y="170" width="9" height="3" fill="#c8646f"/><rect x="489" y="179" width="9" height="3" fill="#c8646f"/>
<path d="M490 166 L490 191 M496.3 166 L496.3 191" stroke="#e8a4ac" stroke-width="1" stroke-dasharray="2 2.2" fill="none"/>
<g stroke="#f0cc48" stroke-width="1.8" stroke-linecap="round" fill="none"><path d="M456 105 C462 103.5 470 107.5 479 108.5"/><path d="M528 102.5 C521 104 513 106.5 504 108"/></g>
<path d="M488.3 50 L492.7 50 L492.4 68 L488.8 68 Z" fill="#6a9cd8"/>
<path d="M486.6 52 L488.3 52 L488.9 68 L487 68 Z" fill="#7868b0"/><path d="M492.7 52 L494.4 52 L494 68 L492.3 68 Z" fill="#7868b0"/>
<path d="M421.1 68.5 C420.8 64.6 421.6 60.3 423.1 56.3 C424.6 52.2 427.1 47.9 430.1 44.2 C433.1 40.5 437.0 37.0 441.2 34.1 C445.4 31.2 450.8 28.6 455.4 27.1 C459.9 25.6 464.5 24.7 468.5 25.0 C472.5 25.3 476.7 26.9 479.6 29.1 C482.5 31.3 484.4 34.7 485.7 38.2 C486.9 41.7 487.3 46.6 487.1 50.3 C486.9 54.0 486.3 57.5 484.7 60.4 C483.1 63.2 480.5 65.2 477.6 67.4 C474.7 69.6 471.2 71.3 467.5 73.5 C463.8 75.7 459.1 78.7 455.4 80.6 C451.7 82.5 448.8 84.3 445.3 85.0 C441.8 85.7 437.6 85.9 434.2 85.0 C430.8 84.1 427.3 82.3 425.1 79.6 C422.9 76.8 421.4 72.4 421.1 68.5 Z" fill="url(#gPurL)" stroke="#9a80b6" stroke-width="0.5"/>
<path d="M492.7 48.3 C492.3 45.1 492.5 41.4 493.7 38.2 C494.9 35.0 497.1 31.4 499.8 29.1 C502.5 26.8 506.2 25.1 509.9 24.4 C513.6 23.7 518.0 23.9 522.0 25.0 C526.0 26.1 530.4 28.6 534.1 31.1 C537.8 33.6 541.2 36.7 544.2 40.2 C547.2 43.7 550.4 48.4 552.3 52.3 C554.2 56.2 555.4 59.9 555.7 63.4 C556.0 66.9 555.5 70.6 554.3 73.5 C553.1 76.4 551.0 78.9 548.3 80.6 C545.6 82.3 541.6 83.6 538.2 83.6 C534.8 83.6 531.8 82.3 528.1 80.6 C524.4 78.9 520.0 76.0 516.0 73.5 C511.9 71.0 507.2 68.1 503.8 65.4 C500.4 62.7 497.7 60.2 495.8 57.4 C493.9 54.5 493.1 51.5 492.7 48.3 Z" fill="url(#gPurR)" stroke="#9a80b6" stroke-width="0.5"/>
<ellipse cx="433" cy="84" rx="6" ry="3.5" fill="#a886c2"/><ellipse cx="446" cy="87" rx="5" ry="3" fill="#b494cc"/>
<ellipse cx="548" cy="82" rx="6" ry="3.5" fill="#a886c2"/><ellipse cx="535" cy="84" rx="5" ry="3" fill="#b494cc"/>
<circle cx="489.3" cy="71.4" r="4.6" fill="#d8a0cc" stroke="#b884b4" stroke-width="0.5"/>
</g>
<path d="M517 36.5 L543 36.5" fill="none" stroke="#8e8e8e" stroke-width="0.9"/>
<path d="M567 59.5 L558 59.5 L501 77 L478 84" fill="none" stroke="#9aa8a0" stroke-width="0.8"/>
<path d="M566.5 78.5 L548 78.5 L505 92" fill="none" stroke="#9aa8a0" stroke-width="0.8"/>
<path d="M569 106.7 L556 106.7 L537 128 L520 143" fill="none" stroke="#8e8e8e" stroke-width="0.8"/>
<path d="M444 93 L458 86 L476 76" fill="none" stroke="#a8b8b0" stroke-width="0.8"/>
<path d="M447 152.5 L474 152.5" fill="none" stroke="#8e8e8e" stroke-width="0.9"/>
<path d="M527 152 L540 152" fill="none" stroke="#8e8e8e" stroke-width="0.9"/>
<path d="M530 157 L540 157" fill="none" stroke="#8e8e8e" stroke-width="0.7"/>
<path d="M453 181.5 L487 181.5" fill="none" stroke="#8e8e8e" stroke-width="0.9"/>
<path d="M457 201 L494 201" fill="none" stroke="#8e8e8e" stroke-width="0.9"/>
<path d="M463 226 L470 226" fill="none" stroke="#8e8e8e" stroke-width="0.9"/>
<path d="M529 173 L539 173" fill="none" stroke="#8e8e8e" stroke-width="0.8"/>
<path d="M530 186 L539 186" fill="none" stroke="#8e8e8e" stroke-width="0.8"/>
<path d="M529 196 L539 196" fill="none" stroke="#8e8e8e" stroke-width="0.8"/>
<text x="562.9" y="52.1" font-size="8.8" font-weight="bold" textLength="36.9" lengthAdjust="spacingAndGlyphs" fill="#262626">Midbrain</text>
<text x="570.1" y="61" font-size="7.6" font-weight="bold" textLength="31.3" lengthAdjust="spacingAndGlyphs" fill="#262626">Superior</text>
<text x="568.8" y="70.4" font-size="7.6" font-weight="bold" textLength="35.8" lengthAdjust="spacingAndGlyphs" fill="#262626">colliculus</text>
<text x="568.8" y="80.6" font-size="7.6" font-weight="bold" textLength="27.7" lengthAdjust="spacingAndGlyphs" fill="#262626">Inferior</text>
<text x="566" y="89.2" font-size="7.6" font-weight="bold" textLength="37.3" lengthAdjust="spacingAndGlyphs" fill="#262626">colliculus</text>
<path d="M601.9 56.4 L606.5 56.4 L606.5 89.8 L604 89.8" fill="none" stroke="#444" stroke-width="0.8"/>
<path d="M606.5 73.1 L610.5 73.1" fill="none" stroke="#444" stroke-width="0.8"/>
<text x="614.6" y="67.7" font-size="7.4" font-weight="bold" textLength="29.8" lengthAdjust="spacingAndGlyphs" fill="#262626">Corpora</text>
<text x="614.6" y="77.1" font-size="7.4" font-weight="bold" textLength="51.9" lengthAdjust="spacingAndGlyphs" fill="#262626">Quadrigemina</text>
<text x="614.6" y="87.1" font-size="7.4" font-weight="bold" textLength="35.8" lengthAdjust="spacingAndGlyphs" fill="#262626">Of tectum</text>
<text x="614" y="96" font-size="6.3" font-weight="bold" textLength="109" lengthAdjust="spacingAndGlyphs" fill="#262626">(4 bodies of the roof of midbrain)</text>
<text x="570.1" y="110.2" font-size="7.8" font-weight="bold" textLength="110" lengthAdjust="spacingAndGlyphs" fill="#262626">Superior cerebellar peduncle</text>
<text x="462.8" y="257.2" font-size="8.6" font-weight="bold" textLength="65.6" lengthAdjust="spacingAndGlyphs" fill="#262626">(c) Dorsal view</text>
</g>
<g id="lateral">
<g filter="url(#soft)">
<path d="M160.0 394.0 C162.3 391.4 170.5 391.3 175.0 391.0 C179.5 390.7 186.1 391.1 190.0 392.0 C193.9 392.9 199.1 393.6 201.0 397.0 C202.9 400.4 202.6 408.6 203.0 415.0 C203.4 421.4 203.6 432.5 203.5 440.0 C203.4 447.5 203.0 459.0 202.5 465.0 C202.0 471.0 201.7 477.2 200.0 480.0 C198.3 482.8 193.5 483.4 191.0 483.5 C188.5 483.6 185.2 483.5 183.5 480.5 C181.8 477.5 181.0 467.9 179.5 463.3 C178.0 458.7 175.1 454.5 173.2 450.0 C171.3 445.5 168.8 438.0 167.0 433.5 C165.2 429.0 162.6 423.8 161.5 420.0 C160.4 416.2 160.1 412.4 159.9 408.5 C159.7 404.6 157.7 396.6 160.0 394.0 Z" fill="url(#gMedLat)"/>
<path d="M193 399 C196 420 197 445 195 470" stroke="#6cba96" stroke-width="3.5" fill="none" opacity="0.55" stroke-linecap="round"/>
<path d="M188 398 C190 420 191 440 190 470" stroke="#58a87c" stroke-width="1.2" fill="none" opacity="0.8"/>
<path d="M172 400 C176 420 182 440 186 462" stroke="#246c48" stroke-width="1" fill="none" opacity="0.7"/>
<path d="M147 322 L190 330 L190 368 L149 354 C146 340 146 330 147 322 Z" fill="#6cc29c"/>
<g stroke="#3f9a74" stroke-width="1.5" fill="none" opacity="0.6"><path d="M152 324.3 C151 334 151 342 153 351.6"/><path d="M157 325.1 C156 334 156 342 158 353.1"/><path d="M162 325.9 C161 334 161 342 163 354.6"/><path d="M167 326.7 C166 334 166 342 168 356.1"/><path d="M172 327.5 C171 334 171 342 173 357.6"/><path d="M177 328.3 C176 334 176 342 178 359.1"/><path d="M182 329.1 C181 334 181 342 183 360.6"/><path d="M187 329.9 C186 334 186 342 188 362.1"/></g>
<ellipse cx="199" cy="340" rx="8" ry="6.5" fill="#54a87e"/><ellipse cx="201" cy="352" rx="8" ry="6.5" fill="#4ea078"/>
<path d="M190 334 L204 334 L208 362 C204 372 200 380 202 398 L186 398 L186 356 Z" fill="#4a9c74"/>
<ellipse cx="200" cy="339" rx="7" ry="5.5" fill="#62b48a"/><ellipse cx="202" cy="351.5" rx="7" ry="5.5" fill="#5cae84"/>
<path d="M189 352 C194 356 198 358 200 358" stroke="#e0c848" stroke-width="1.4" fill="none"/>
<path d="M200 362 C208 366 212 372 213 380 C213 388 208 394 202 398 L196 398 L196 362 Z" fill="#56a880"/>
<path d="M147.5 348.3 C149.4 347.7 154.9 349.2 158.0 350.0 C161.1 350.8 165.5 352.3 168.3 353.3 C171.2 354.3 174.5 355.5 177.0 356.5 C179.5 357.5 182.8 358.8 184.9 360.0 C187.0 361.2 189.2 363.0 191.0 364.5 C192.8 366.0 194.8 369.2 196.6 370.0 C198.4 370.8 201.2 369.1 203.0 369.5 C204.8 369.9 207.4 371.6 208.5 373.0 C209.6 374.4 210.0 377.2 210.0 379.0 C210.0 380.8 209.4 383.6 208.5 385.0 C207.6 386.4 205.6 387.7 204.0 388.5 C202.4 389.3 200.1 389.8 198.0 390.5 C195.9 391.2 192.2 392.1 190.0 393.0 C187.8 393.9 185.0 395.4 183.0 396.5 C181.0 397.6 178.7 398.9 176.6 400.0 C174.5 401.1 171.2 402.6 169.0 403.5 C166.8 404.4 163.7 406.1 161.6 405.7 C159.5 405.3 156.7 402.6 155.0 401.0 C153.3 399.4 151.3 397.2 150.0 395.0 C148.7 392.8 146.9 389.0 146.0 386.0 C145.1 383.0 144.4 378.6 144.2 375.0 C144.0 371.4 144.3 365.1 144.5 362.0 C144.7 358.9 145.1 356.1 145.5 354.0 C145.9 351.9 145.6 348.9 147.5 348.3 Z" fill="#b7cab3"/>
<g stroke="#e0ead9" stroke-width="0.8" fill="none" opacity="0.9"><path d="M147 354 C165 355 185 363 198 372"/><path d="M146 360 C165 361 184 368 196 376"/><path d="M145 367 C163 367 182 373 194 380"/><path d="M145 374 C162 374 180 379 194 384"/><path d="M146 381 C162 381 180 385 196 388"/><path d="M148 388 C162 388 178 390 192 391.5"/><path d="M151 395 C162 395 174 396 184 395.5"/><path d="M156 401 C162 401 168 401 174 400"/></g>
<g stroke="#92ac8f" stroke-width="0.6" fill="none" opacity="0.8"><path d="M147 357 C165 358 185 365.5 197 374"/><path d="M145.5 363.5 C164 364 183 370.5 195 378"/><path d="M145 370.5 C162 370.5 181 376 194 382"/><path d="M145.5 377.5 C162 377.5 180 382 195 386"/><path d="M147 384.5 C162 384.5 179 387.5 194 390"/><path d="M149.5 391.5 C162 391.5 176 393 188 393.5"/></g>
<path d="M145.5 354 C144 366 144 378 147 388 C150 396 155 402 161 405.5" stroke="#90aa8e" stroke-width="2.2" fill="none" opacity="0.5"/>
<ellipse cx="200.6" cy="379" rx="9.2" ry="10" fill="#c3d2be" stroke="#9db69a" stroke-width="0.5"/>
<path d="M208 368 C213 372 214 384 209 390" stroke="#4a9c74" stroke-width="2.5" fill="none"/>
<g fill="#ecc838"><path d="M162 369 L168 366 L171 371 L167 375 L163 374 Z"/><path d="M183 392 L189 390 L192 395 L186 397 Z"/><path d="M153 396 C156 400 158 404 161 406 L163 403 C160 400 158 397 156 394 Z"/><path d="M180 404 L186 401 L187 408 L181 408 Z"/><path d="M162 412 L168 410 L170 420 L166 424 L162 420 Z"/><path d="M180 416 L188 413 L189 423 L183 422 Z"/></g>
<g stroke="#ecc838" stroke-width="1" fill="none" stroke-linecap="round"><path d="M163 414 L160 418 M164 418 L160 423 M167 420 L165 426 M169 416 L172 424"/><path d="M187 436 L189 438 M188 447 L190 449 M189 455 L191 457 M190 463 L191 465 M189 471 L190 473 M176 442 L179 443"/></g>
<path d="M127.5 318.5 C126.3 317.1 132.8 316.4 135.0 315.0 C137.2 313.6 139.6 312.5 140.5 310.0 C141.4 307.5 139.6 303.4 140.5 300.0 C141.4 296.6 143.1 292.7 145.8 289.5 C148.5 286.3 152.7 283.1 156.6 281.0 C160.5 278.9 165.2 277.7 169.5 276.8 C173.8 275.9 177.7 275.4 182.4 275.5 C187.1 275.6 192.5 276.4 197.5 277.7 C202.5 278.9 208.3 280.7 212.6 283.0 C216.9 285.3 220.5 288.1 223.4 291.7 C226.3 295.3 229.1 300.3 229.8 304.6 C230.5 308.9 230.3 313.6 227.7 317.5 C225.1 321.4 219.3 325.3 214.0 328.0 C208.7 330.7 202.3 332.6 196.0 333.5 C189.7 334.4 182.3 334.1 176.0 333.5 C169.7 332.9 163.7 331.7 158.0 330.0 C152.3 328.3 147.1 325.4 142.0 323.5 C136.9 321.6 128.7 319.9 127.5 318.5 Z" fill="url(#gPurLat)"/>
<path d="M146.6 315.8 C160 317 178 319.5 192 321.3 L192 328.3 C178 328 164 326 151.3 323.6 C148.5 321 147 318.5 146.6 315.8 Z" fill="#72c6a2"/>
<g stroke="#3f9068" stroke-width="0.8" fill="none" opacity="0.8"><path d="M153 316.7 L153.5 323.9"/><path d="M157 317.2 L157.5 324.4"/><path d="M161 317.7 L161.5 324.8"/><path d="M165 318.2 L165.5 325.2"/><path d="M169 318.7 L169.5 325.7"/><path d="M173 319.2 L173.5 326.1"/><path d="M177 319.7 L177.5 326.6"/><path d="M181 320.2 L181.5 327.0"/><path d="M185 320.7 L185.5 327.5"/><path d="M189 321.2 L189.5 327.9"/></g>
<path d="M127 317.5 C138 319 150 321 160 325.5 C172 329 184 329.5 196 329 C210 328 222 324 228 318 C226 326 214 333 196 334 C180 334.5 166 333 158 330 C146 325 134 322 127 317.5 Z" fill="#b090c8"/>
<path d="M127 317.5 C138 319 150 321 160 325.5 C172 329 184 329.5 196 329 C210 328 222 324 228 318" fill="none" stroke="#c8aedc" stroke-width="0.9"/>
<path d="M139 327 L131 340" stroke="#b070a0" stroke-width="2.2" fill="none"/>
<circle cx="136.5" cy="326" r="3.2" fill="#5c58b0"/><circle cx="141.5" cy="327.5" r="2.8" fill="#6c62b8"/>
<circle cx="125.6" cy="343.6" r="6.3" fill="url(#gPit)"/>
</g>
<path d="M105.3 311.1 L132.9 311.1 L150 323" fill="none" stroke="#4a4a4a" stroke-width="0.8"/>
<path d="M110.3 333.7 L133 333.7" fill="none" stroke="#4a4a4a" stroke-width="0.8"/>
<path d="M112.9 342.3 L121 342.3" fill="none" stroke="#4a4a4a" stroke-width="0.8"/>
<path d="M141.1 353.5 L151.2 353.5 L168 340" fill="none" stroke="#4a4a4a" stroke-width="0.8"/>
<path d="M126.9 368.6 L165 368.6" fill="none" stroke="#4a4a4a" stroke-width="0.8"/>
<path d="M104.9 377.9 L150 377.9" fill="none" stroke="#4a4a4a" stroke-width="0.8"/>
<path d="M121.7 387.3 L160 387.3 L186 393" fill="none" stroke="#4a4a4a" stroke-width="0.8"/>
<path d="M129.7 397.5 L154 397.5" fill="none" stroke="#4a4a4a" stroke-width="0.8"/>
<path d="M141.9 407.6 L181 407.6" fill="none" stroke="#4a4a4a" stroke-width="0.8"/>
<path d="M132.9 419 L164 419" fill="none" stroke="#4a4a4a" stroke-width="0.8"/>
<path d="M119.5 432.4 L167 432.4" fill="none" stroke="#4a4a4a" stroke-width="0.8"/>
<path d="M128.2 445.7 L176 445.7" fill="none" stroke="#4a4a4a" stroke-width="0.8"/>
<path d="M195.4 307.7 L239.1 307.7" fill="none" stroke="#4a4a4a" stroke-width="0.8"/>
<path d="M206.1 336.3 L225.5 336.3" fill="none" stroke="#4a4a4a" stroke-width="0.8"/>
<path d="M204 346 L225.5 346" fill="none" stroke="#4a4a4a" stroke-width="0.8"/>
<path d="M198.6 354.6 L225.5 354.6" fill="none" stroke="#4a4a4a" stroke-width="0.8"/>
<path d="M206 367.5 L221.2 367.5" fill="none" stroke="#4a4a4a" stroke-width="0.8"/>
<path d="M212 367.5 L211 372" fill="none" stroke="#4a4a4a" stroke-width="0.7"/>
<path d="M205 379.4 L225.5 379.4" fill="none" stroke="#4a4a4a" stroke-width="0.8"/>
<path d="M206 390.8 L224.5 390.8" fill="none" stroke="#4a4a4a" stroke-width="0.8"/>
<path d="M192 401.5 L220.8 401.5" fill="none" stroke="#4a4a4a" stroke-width="0.8"/>
<path d="M172 410.6 L220.8 410.6" fill="none" stroke="#4a4a4a" stroke-width="0.8"/>
<text x="67.9" y="313.7" font-size="7.2" font-weight="bold" textLength="35.3" lengthAdjust="spacingAndGlyphs" fill="#262626">Optic tract</text>
<text x="63.6" y="335.7" font-size="7.2" font-weight="bold" textLength="44.5" lengthAdjust="spacingAndGlyphs" fill="#262626">Infundibulum</text>
<text x="22" y="345" font-size="8" textLength="31.6" lengthAdjust="spacingAndGlyphs" fill="#666">뇌하수체</text>
<text x="62.9" y="344.3" font-size="7.2" font-weight="bold" textLength="48.9" lengthAdjust="spacingAndGlyphs" fill="#262626">Pituitary gland</text>
<text x="57.5" y="355.2" font-size="7.2" font-weight="bold" textLength="80.3" lengthAdjust="spacingAndGlyphs" fill="#262626">Crus cerebri of cerebral</text>
<text x="57.5" y="362.1" font-size="7.2" font-weight="bold" textLength="72.8" lengthAdjust="spacingAndGlyphs" fill="#262626">peduncles (midbrain)</text>
<text x="57.1" y="370.7" font-size="7.2" font-weight="bold" textLength="67.2" lengthAdjust="spacingAndGlyphs" fill="#262626">Trigeminal nerve (V)</text>
<text x="65" y="381" font-size="8.5" textLength="14" lengthAdjust="spacingAndGlyphs" fill="#555">연수</text>
<text x="85" y="380" font-size="7.2" font-weight="bold" textLength="17.7" lengthAdjust="spacingAndGlyphs" fill="#262626">Pons</text>
<text x="62.9" y="389" font-size="7.2" font-weight="bold" textLength="56.4" lengthAdjust="spacingAndGlyphs" fill="#262626">Facial nerve (VII)</text>
<text x="58.6" y="400.1" font-size="7.2" font-weight="bold" textLength="68.5" lengthAdjust="spacingAndGlyphs" fill="#262626">Abducens nerve (VI)</text>
<text x="43.1" y="409.8" font-size="7.2" font-weight="bold" textLength="96.3" lengthAdjust="spacingAndGlyphs" fill="#262626">Glossopharyngeal nerve (IX)</text>
<text x="51.7" y="421.2" font-size="7.2" font-weight="bold" textLength="78.6" lengthAdjust="spacingAndGlyphs" fill="#262626">Hypoglossal nerve (XII)</text>
<text x="64.4" y="434.5" font-size="7.2" font-weight="bold" textLength="53.4" lengthAdjust="spacingAndGlyphs" fill="#262626">Vagus nerve (X)</text>
<text x="55.8" y="447.4" font-size="7.2" font-weight="bold" textLength="70.2" lengthAdjust="spacingAndGlyphs" fill="#262626">Accessory nerve (XI)</text>
<text x="240.6" y="309.8" font-size="7.2" font-weight="bold" textLength="31.7" lengthAdjust="spacingAndGlyphs" fill="#262626">Thalamus</text>
<text x="227" y="338.4" font-size="7.6" font-weight="bold" textLength="63.8" lengthAdjust="spacingAndGlyphs" fill="#262626">Superior colliculus</text>
<text x="294" y="339" font-size="8" textLength="22.6" lengthAdjust="spacingAndGlyphs" fill="#666">상소구</text>
<text x="227" y="348.1" font-size="7.6" font-weight="bold" textLength="58.8" lengthAdjust="spacingAndGlyphs" fill="#262626">Inferior colliculus</text>
<text x="294" y="348.8" font-size="8" textLength="22.6" lengthAdjust="spacingAndGlyphs" fill="#666">하소구</text>
<text x="227" y="356.8" font-size="7.2" font-weight="bold" textLength="66.4" lengthAdjust="spacingAndGlyphs" fill="#262626">Trochlear nerve (IV)</text>
<text x="222.3" y="370.1" font-size="7.6" font-weight="bold" textLength="97.5" lengthAdjust="spacingAndGlyphs" fill="#262626">Superior cerebellar peduncle</text>
<text x="227" y="381.5" font-size="7.6" font-weight="bold" textLength="91.6" lengthAdjust="spacingAndGlyphs" fill="#262626">Middle cerebellar peduncle</text>
<text x="225.5" y="393.4" font-size="7.6" font-weight="bold" textLength="93.7" lengthAdjust="spacingAndGlyphs" fill="#262626">Inferior cerebellar peduncle</text>
<text x="222.3" y="403.7" font-size="7.4" font-weight="bold" textLength="98.6" lengthAdjust="spacingAndGlyphs" fill="#262626">Vestibulocochlear nerve (VIII)</text>
<text x="222.3" y="412.3" font-size="7.2" font-weight="bold" textLength="16.8" lengthAdjust="spacingAndGlyphs" fill="#262626">Olive</text>
<text x="157.7" y="491.6" font-size="8" font-weight="bold" textLength="75.4" lengthAdjust="spacingAndGlyphs" fill="#262626">(b) Left lateral view</text>
<rect x="288.9" y="447" width="6.4" height="6" fill="#c8a8da" stroke="#8a8a9a" stroke-width="0.3"/>
<rect x="288.9" y="455.8" width="6.4" height="6" fill="#5c5aa4" stroke="#8a8a9a" stroke-width="0.3"/>
<rect x="288.9" y="464.4" width="6.4" height="6" fill="#74b49c" stroke="#8a8a9a" stroke-width="0.3"/>
<rect x="288.9" y="472.8" width="6.4" height="6" fill="#c4e0d0" stroke="#8a8a9a" stroke-width="0.3"/>
<rect x="288.9" y="481.7" width="6.4" height="6" fill="#1f8870" stroke="#8a8a9a" stroke-width="0.3"/>
<text x="297.8" y="451.8" font-size="5.2" font-weight="bold" textLength="22.6" lengthAdjust="spacingAndGlyphs" fill="#333">Thalamus</text>
<text x="297.8" y="460.4" font-size="5.2" font-weight="bold" textLength="34.2" lengthAdjust="spacingAndGlyphs" fill="#333">Hypothalamus</text>
<text x="297.8" y="468.8" font-size="5.2" font-weight="bold" textLength="20.2" lengthAdjust="spacingAndGlyphs" fill="#333">Midbrain</text>
<text x="297.8" y="477.3" font-size="5.2" font-weight="bold" textLength="11.8" lengthAdjust="spacingAndGlyphs" fill="#333">Pons</text>
<text x="297.8" y="486.2" font-size="5.2" font-weight="bold" textLength="18.1" lengthAdjust="spacingAndGlyphs" fill="#333">Medulla</text>
<text x="297.8" y="491.4" font-size="5.2" font-weight="bold" textLength="23.9" lengthAdjust="spacingAndGlyphs" fill="#333">oblongata</text>
<path d="M330.9 447 L334.9 447 L334.9 461.5 L330.9 461.5" fill="none" stroke="#444" stroke-width="0.7"/>
<path d="M334.9 455 L338.2 455" fill="none" stroke="#444" stroke-width="0.7"/>
<path d="M330.9 463.9 L334.9 463.9 L334.9 491.4 L330.9 491.4" fill="none" stroke="#444" stroke-width="0.7"/>
<path d="M334.9 477.3 L338.2 477.3" fill="none" stroke="#444" stroke-width="0.7"/>
<text x="339" y="456.7" font-size="5.2" font-weight="bold" textLength="33.4" lengthAdjust="spacingAndGlyphs" fill="#333">Diencephalon</text>
<text x="339" y="478.8" font-size="5.2" font-weight="bold" textLength="25" lengthAdjust="spacingAndGlyphs" fill="#333">Brainstem</text>
</g>
<g id="inset">
<g filter="url(#soft)">
<path d="M257.0 278.0 C257.2 276.2 257.5 273.0 258.5 271.0 C259.5 269.0 261.0 267.3 263.0 266.0 C265.0 264.7 268.0 263.6 270.5 263.0 C273.0 262.4 275.2 262.5 278.0 262.6 C280.8 262.7 284.2 262.9 287.0 263.5 C289.8 264.1 292.7 265.1 295.0 266.5 C297.3 267.9 299.4 269.9 301.0 272.0 C302.6 274.1 304.1 276.7 304.8 279.0 C305.5 281.3 305.5 283.8 305.2 286.0 C304.9 288.2 304.2 290.4 303.0 292.0 C301.8 293.6 299.8 295.0 298.0 295.6 C296.2 296.2 293.7 296.1 292.0 295.5 C290.3 294.9 289.3 292.7 288.0 292.0 C286.7 291.3 285.2 291.1 284.0 291.5 C282.8 291.9 282.3 293.8 281.0 294.5 C279.7 295.2 277.7 296.0 276.0 296.0 C274.3 296.0 272.2 295.3 271.0 294.5 C269.8 293.7 269.7 291.8 268.5 291.0 C267.3 290.2 265.5 290.8 264.0 290.0 C262.5 289.2 260.6 287.8 259.5 286.5 C258.4 285.2 257.7 283.4 257.3 282.0 C256.9 280.6 256.8 279.8 257.0 278.0 Z" fill="#f5dfc4" stroke="#e4c49c" stroke-width="0.5"/>
<g stroke="#ddb88e" stroke-width="0.7" fill="none" opacity="0.9"><path d="M261 275 C265 270 271 268 275 270"/><path d="M266 267 C272 268 277 272 279 276"/><path d="M279 264 C283 268 285 272 285 277"/><path d="M289 266 C291 271 293 275 297 279"/><path d="M261 282 C267 280 273 282 277 286"/><path d="M291 284 C295 286 299 288 302 288"/><path d="M269 276 C273 276 277 278 281 281"/><path d="M296 271 C298 275 300 279 302 283"/><path d="M272 290 C276 288 280 289 283 291"/><path d="M286 280 C288 284 291 288 295 291"/><path d="M264 271 C268 274 270 278 270 282"/></g>
<path d="M283 287 L288 287 L291 302 L288 303 Z" fill="#5aa880"/>
<ellipse cx="283.5" cy="283" rx="5" ry="3.6" fill="#d8a8cc"/>
<path d="M334 271 L349.5 271 C350 277 351 281 351.5 285 C352 290 350 294 348 297 C347.5 303 347.3 308 347 314 L344 317.2 L340.5 314 C340 306 338.5 300 336 295 C332 291 331 286 332 281 C333 277 333.5 274 334 271 Z" fill="#5aaa80"/>
<path d="M331.5 283 C334 280 344 281 350 283 C352.5 287 352 291 349 294 C343 296.5 336.5 296 332.5 292.5 C331 289.5 331 286 331.5 283 Z" fill="#9ecb98"/>
<path d="M340.3 311.5 L347.2 311.5 L347 317.2 L341 317.2 Z" fill="#f2c8b8"/>
<path d="M340.5 288 L341.5 296 M344 296 L345 308 M338 284 L339 289" stroke="#e4cc48" stroke-width="1" fill="none"/>
<path d="M329.8 272.0 C329.3 270.4 329.6 267.2 330.5 265.5 C331.4 263.8 332.9 262.4 335.0 261.5 C337.1 260.6 340.3 260.2 343.0 260.2 C345.7 260.2 348.9 260.4 351.0 261.5 C353.1 262.6 355.1 264.8 355.8 266.5 C356.6 268.2 356.5 270.6 355.5 272.0 C354.5 273.4 352.4 274.6 350.0 275.2 C347.6 275.8 343.8 275.7 341.0 275.6 C338.2 275.5 335.4 275.4 333.5 274.8 C331.6 274.2 330.3 273.6 329.8 272.0 Z" fill="#a98ac6"/>
<ellipse cx="341.5" cy="266.3" rx="10.8" ry="5.4" fill="#d6bde2" transform="rotate(-4 341.5 266.3)"/>
<path d="M331.5 274 L327.5 277.5" stroke="#c87898" stroke-width="1.2"/><circle cx="326.5" cy="278" r="2" fill="#ec7878"/>
</g>
<path d="M281.7 278.3 L333.6 261.3 M290.2 302.8 L343 316.5" stroke="#444" stroke-width="0.8" stroke-dasharray="1.6 1.2" fill="none"/>
<text x="309" y="291.1" font-size="4.6" font-weight="bold" textLength="9.5" lengthAdjust="spacingAndGlyphs" fill="#333">View</text>
<text x="311.5" y="296" font-size="4.6" font-weight="bold" textLength="5.5" lengthAdjust="spacingAndGlyphs" fill="#333">(a)</text>
<path d="M320.5 289.5 L326 289.5" fill="none" stroke="#333" stroke-width="0.8"/>
<path d="M326 288 L328.5 289.5 L326 291 Z" fill="#333"/>
<text x="361.5" y="291.1" font-size="4.6" font-weight="bold" textLength="9.5" lengthAdjust="spacingAndGlyphs" fill="#333">View</text>
<text x="364" y="296" font-size="4.6" font-weight="bold" textLength="5.5" lengthAdjust="spacingAndGlyphs" fill="#333">(c)</text>
<path d="M355.5 289.5 L360.5 289.5" fill="none" stroke="#333" stroke-width="0.8"/>
<path d="M355.5 288 L353 289.5 L355.5 291 Z" fill="#333"/>
<text x="338.8" y="322.2" font-size="4.6" font-weight="bold" textLength="10" lengthAdjust="spacingAndGlyphs" fill="#333">View</text>
<text x="341.5" y="327.3" font-size="4.6" font-weight="bold" textLength="5.5" lengthAdjust="spacingAndGlyphs" fill="#333">(b)</text>
</g>
<g id="cross">
<g filter="url(#soft)">
<path d="M527.0 344.6 C532.8 344.6 539.7 345.3 545.0 346.5 C550.3 347.7 554.8 349.4 558.6 352.0 C562.4 354.6 565.2 357.6 568.0 362.0 C570.8 366.4 572.8 374.5 575.6 378.5 C578.4 382.5 580.9 383.1 585.0 386.0 C589.1 388.9 596.6 392.3 600.0 396.0 C603.4 399.7 605.5 403.3 605.5 408.0 C605.5 412.7 602.6 419.0 600.0 424.0 C597.4 429.0 594.0 433.5 590.0 438.0 C586.0 442.5 581.2 447.5 576.0 451.0 C570.8 454.5 563.8 458.3 558.6 458.8 C553.4 459.3 548.8 456.5 545.0 454.0 C541.2 451.5 538.6 446.8 536.0 444.0 C533.4 441.2 531.8 436.7 529.5 437.0 C527.2 437.3 524.9 443.0 522.0 446.0 C519.1 449.0 515.2 453.1 512.0 455.0 C508.8 456.9 506.8 458.1 502.8 457.6 C498.8 457.1 493.1 454.9 488.0 452.0 C482.9 449.1 477.0 444.7 472.0 440.0 C467.0 435.3 461.5 429.2 458.0 424.0 C454.5 418.8 451.7 413.5 451.0 409.0 C450.3 404.5 451.5 400.5 454.0 397.0 C456.5 393.5 461.7 391.2 466.0 388.0 C470.3 384.8 476.5 382.3 480.0 378.0 C483.5 373.7 484.4 366.2 487.0 362.0 C489.6 357.8 491.7 355.6 495.5 353.0 C499.3 350.4 504.8 347.9 510.0 346.5 C515.2 345.1 521.2 344.6 527.0 344.6 Z" fill="#f1e6cc" stroke="#e2cf9c" stroke-width="0.8"/>
<path d="M488.0 372.0 C490.7 366.2 491.3 361.0 495.0 357.0 C498.7 353.0 504.7 349.8 510.0 348.0 C515.3 346.2 521.2 346.0 527.0 346.0 C532.8 346.0 539.8 346.3 545.0 348.0 C550.2 349.7 554.3 352.0 558.0 356.0 C561.7 360.0 563.7 366.0 567.0 372.0 C570.3 378.0 576.8 384.0 578.0 392.0 C579.2 400.0 577.0 412.3 574.0 420.0 C571.0 427.7 565.3 433.8 560.0 438.0 C554.7 442.2 547.1 445.3 542.0 445.0 C536.9 444.7 533.7 436.0 529.5 436.0 C525.3 436.0 522.1 444.7 517.0 445.0 C511.9 445.3 504.5 442.2 499.0 438.0 C493.5 433.8 487.3 427.7 484.0 420.0 C480.7 412.3 478.3 400.0 479.0 392.0 C479.7 384.0 485.3 377.8 488.0 372.0 Z" fill="#e9dcc0"/>
<path d="M462.2 392.0 C459.3 392.4 456.8 395.5 455.0 398.0 C453.2 400.5 451.0 404.9 450.5 408.5 C450.0 412.1 450.9 418.5 451.5 422.0 C452.1 425.5 453.1 429.1 454.4 432.0 C455.7 434.9 457.9 438.7 460.0 441.0 C462.1 443.3 465.5 445.8 468.5 447.6 C471.5 449.4 476.5 451.7 480.0 453.0 C483.5 454.3 488.6 455.8 492.0 456.5 C495.4 457.2 500.0 457.9 503.0 457.5 C506.0 457.1 509.7 455.5 512.3 453.9 C514.8 452.3 517.9 449.1 520.0 447.0 C522.1 444.9 526.6 440.7 526.4 439.8 C526.2 438.9 521.9 440.8 518.6 441.3 C515.3 441.8 508.2 443.3 504.5 443.0 C500.8 442.7 496.8 440.9 494.0 439.5 C491.2 438.1 487.9 435.7 485.7 433.5 C483.4 431.3 480.5 427.6 479.0 425.0 C477.5 422.4 476.3 419.3 475.5 416.3 C474.7 413.3 473.7 408.2 473.5 405.0 C473.3 401.8 475.7 396.9 474.0 395.0 C472.3 393.1 465.1 391.6 462.2 392.0 Z" fill="#f9f5e8" stroke="#dcc88a" stroke-width="0.7"/>
<path d="M595.3 392.0 C598.1 392.4 600.7 395.5 602.5 398.0 C604.3 400.5 606.5 404.9 607.0 408.5 C607.5 412.1 606.6 418.5 606.0 422.0 C605.4 425.5 604.4 429.1 603.1 432.0 C601.8 434.9 599.6 438.7 597.5 441.0 C595.4 443.3 592.0 445.8 589.0 447.6 C586.0 449.4 581.0 451.7 577.5 453.0 C574.0 454.3 569.0 455.8 565.5 456.5 C562.0 457.2 557.5 457.9 554.5 457.5 C551.5 457.1 547.8 455.5 545.2 453.9 C542.7 452.3 539.6 449.1 537.5 447.0 C535.4 444.9 530.9 440.7 531.1 439.8 C531.3 438.9 535.6 440.8 538.9 441.3 C542.2 441.8 549.3 443.3 553.0 443.0 C556.7 442.7 560.7 440.9 563.5 439.5 C566.3 438.1 569.5 435.7 571.8 433.5 C574.0 431.3 577.0 427.6 578.5 425.0 C580.0 422.4 581.2 419.3 582.0 416.3 C582.8 413.3 583.8 408.2 584.0 405.0 C584.2 401.8 581.8 396.9 583.5 395.0 C585.2 393.1 592.4 391.6 595.3 392.0 Z" fill="#f9f5e8" stroke="#dcc88a" stroke-width="0.7"/>
<path d="M527.0 346.5 C532.8 346.5 540.0 347.2 545.0 348.5 C550.0 349.8 553.5 351.4 557.0 354.0 C560.5 356.6 563.7 360.0 566.0 364.0 C568.3 368.0 571.0 373.7 571.0 378.0 C571.0 382.3 568.8 387.7 566.0 390.0 C563.2 392.3 557.3 394.0 554.0 392.0 C550.7 390.0 550.5 382.3 546.0 378.0 C541.5 373.7 533.3 366.0 527.0 366.0 C520.7 366.0 512.5 373.7 508.0 378.0 C503.5 382.3 503.3 390.0 500.0 392.0 C496.7 394.0 490.5 392.3 488.0 390.0 C485.5 387.7 484.7 382.3 485.0 378.0 C485.3 373.7 487.8 367.8 490.0 364.0 C492.2 360.2 494.7 357.6 498.0 355.0 C501.3 352.4 505.2 349.9 510.0 348.5 C514.8 347.1 521.2 346.5 527.0 346.5 Z" fill="#e2cba8"/>
<g stroke="#c9aa84" stroke-width="0.7" fill="none" opacity="0.8"><path d="M498 360 C510 350 544 350 560 360"/><path d="M496 366 C510 355 546 355 564 368"/><path d="M495 373 C508 360 548 360 566 375"/><path d="M500 356 C512 349 540 348 556 355"/></g>
<path d="M528.0 356.0 C531.2 356.0 535.3 357.2 538.0 359.0 C540.7 360.8 542.8 364.2 544.0 367.0 C545.2 369.8 545.5 373.2 545.0 376.0 C544.5 378.8 542.5 382.0 541.0 384.0 C539.5 386.0 537.9 387.0 536.0 388.0 C534.1 389.0 531.7 390.0 529.5 390.0 C527.3 390.0 525.1 389.0 523.0 388.0 C520.9 387.0 518.8 386.0 517.0 384.0 C515.2 382.0 513.2 378.8 512.5 376.0 C511.8 373.2 511.9 369.8 513.0 367.0 C514.1 364.2 516.5 360.8 519.0 359.0 C521.5 357.2 524.8 356.0 528.0 356.0 Z" fill="#dcd5bf" stroke="#b5aa90" stroke-width="0.6"/>
<circle cx="527.5" cy="373" r="3" fill="#fff" stroke="#6a6458" stroke-width="1.2"/>
<g filter="url(#stipple)">
<path d="M474 394 C472 412 478 428 492 438 C502 445 514 446 522 440 L518 434 C508 437 498 432 491 422 C485 412 484 400 487 390 Z" fill="#000"/>
<path d="M583 394 C585 412 579 428 565 438 C555 445 543 446 535 440 L539 434 C549 437 559 432 566 422 C572 412 573 400 570 390 Z" fill="#000"/>
<path d="M490 374 C494 380 502 386 509 389 L504 397 C496 394 489 388 485 381 Z" fill="#000"/>
<path d="M565 374 C561 380 553 386 546 389 L552 397 C560 394 567 388 571 381 Z" fill="#000"/>
<path d="M486 372 C490 378 490 386 488 394 L480 396 C480 388 481 380 483 374 Z" fill="#000"/>
<path d="M571 372 C567 378 567 386 569 394 L577 396 C577 388 576 380 574 374 Z" fill="#000"/>
<path d="M520 428 C523 432 526 436 529 438 C532 436 536 432 538 428 L534 424 L529 430 L524 424 Z" fill="#000"/>
</g>
<g filter="url(#soft2)" opacity="0.6">
<path d="M474 394 C472 412 478 428 492 438 C502 445 514 446 522 440 L520 437 C508 441 494 434 486 422 C480 412 479 402 481 392 Z" fill="#5a5652"/>
<path d="M583 394 C585 412 579 428 565 438 C555 445 543 446 535 440 L537 437 C549 441 563 434 571 422 C577 412 578 402 576 392 Z" fill="#5a5652"/>
</g>
<g stroke="#7a766e" stroke-width="1.1" fill="none" opacity="0.8"><path d="M488.5 389 C487 394 487.5 399 489.5 403"/><path d="M492 388 C490.5 393 491 398 493 402"/><path d="M495.5 387.5 C494 392 494.5 396 496 400"/><path d="M568.5 389 C570 394 569.5 399 567.5 403"/><path d="M565 388 C566.5 393 566 398 564 402"/></g>
<g stroke="#d8c8a4" stroke-width="0.9" fill="none" opacity="0.9"><path d="M455 404 L472 400"/><path d="M455 412 L473 408"/><path d="M458 420 L476 415"/><path d="M462 428 L479 422"/><path d="M468 435 L484 428"/><path d="M475 442 L489 434"/><path d="M483 448 L495 439"/><path d="M492 452 L502 443"/><path d="M502 455 L509 446"/><path d="M512 452 L516 444"/><path d="M602 402 L584 398"/><path d="M603 410 L584 406"/><path d="M600 420 L582 414"/><path d="M596 428 L578 421"/><path d="M590 436 L574 428"/><path d="M583 443 L569 435"/><path d="M575 449 L563 440"/><path d="M566 454 L556 444"/><path d="M556 456 L549 447"/><path d="M546 452 L542 444"/></g>
<ellipse cx="508.6" cy="412.2" rx="11" ry="14.8" fill="url(#gRed)" stroke="#f2e6c4" stroke-width="1.6" transform="rotate(-14 508.6 412.2)"/>
<ellipse cx="547" cy="412.5" rx="9.2" ry="13.8" fill="url(#gRed)" stroke="#f2e6c4" stroke-width="1.6" transform="rotate(14 547 412.5)"/>
<ellipse cx="523.5" cy="394" rx="3.4" ry="4.8" fill="#6a6660" stroke="#3c3a36" stroke-width="0.5"/>
<ellipse cx="535.2" cy="393.5" rx="3.2" ry="4.6" fill="#6a6660" stroke="#3c3a36" stroke-width="0.5"/>
<ellipse cx="479.6" cy="376.3" rx="7.5" ry="4.6" fill="#6c6864" transform="rotate(-38 479.6 376.3)" stroke="#d8cca8" stroke-width="1"/>
<ellipse cx="585" cy="383" rx="4.8" ry="7" fill="#6c6864" transform="rotate(-25 585 383)" stroke="#d8cca8" stroke-width="1"/>
<path d="M535.5 397 C536 410 538 420 539.5 432 C540.5 446 541 456 541.6 464.5" stroke="#4a362c" stroke-width="1.8" fill="none"/>
<path d="M535.5 398 C537 408 541 414 543 420" stroke="#3a2a24" stroke-width="0.9" fill="none"/>
<path d="M540 440 L541.6 465" stroke="#8a7468" stroke-width="3" fill="none" opacity="0.6"/>
</g>
<path d="M483.4 357.4 L484.6 352.6 L497.9 343.2 L514.9 331.4 L519 335" fill="none" stroke="#111" stroke-width="1.9" stroke-linejoin="round" stroke-linecap="round"/>
<path d="M497.9 342.5 L493.4 336.6" stroke="#111" stroke-width="1.5" stroke-linecap="round"/>
<path d="M485.2 354.5 L486.4 357.6" stroke="#111" stroke-width="1" stroke-linecap="round"/>
<text transform="translate(465.3 354) rotate(-41.5)" font-size="13" font-weight="bold" textLength="41" lengthAdjust="spacingAndGlyphs" fill="#161616">Tectum</text>
<text x="516.9" y="321.8" font-size="11.3" font-weight="bold" textLength="51.4" lengthAdjust="spacingAndGlyphs" fill="#222">Posterior</text>
<text x="497.9" y="480.7" font-size="11.3" font-weight="bold" textLength="45.6" lengthAdjust="spacingAndGlyphs" fill="#222">Anterior</text>
<path d="M438 417 L439.7 415.2 L488.2 471.7 L486 473.5" fill="none" stroke="#222" stroke-width="0.9"/>
<path d="M462.8 445.5 L456.7 451.6" fill="none" stroke="#222" stroke-width="0.9"/>
<text x="430" y="457.1" font-size="5.5" textLength="21.3" lengthAdjust="spacingAndGlyphs" stroke="#333" stroke-width="0.22" fill="#333">Cerebral</text>
<text x="430" y="464" font-size="5.5" textLength="22.5" lengthAdjust="spacingAndGlyphs" stroke="#333" stroke-width="0.22" fill="#333">peduncle</text>
<text x="402.2" y="373.5" font-size="5.5" textLength="50.4" lengthAdjust="spacingAndGlyphs" stroke="#333" stroke-width="0.22" fill="#333">Reticular formation</text>
<text x="402.2" y="386.8" font-size="5.5" textLength="45.7" lengthAdjust="spacingAndGlyphs" stroke="#333" stroke-width="0.22" fill="#333">Medial lemniscus</text>
<path d="M455.7 371.9 L494 380" fill="none" stroke="#444" stroke-width="0.8"/>
<path d="M449.5 385.2 L485.5 385.2" fill="none" stroke="#444" stroke-width="0.8"/>
<path d="M552 351.5 L615.8 351.5" fill="none" stroke="#555" stroke-width="0.8"/>
<path d="M537 362.9 L615.8 362.9" fill="none" stroke="#555" stroke-width="0.8"/>
<path d="M531 373 L615.8 373" fill="none" stroke="#555" stroke-width="0.8"/>
<path d="M590 383.8 L615.8 383.8" fill="none" stroke="#555" stroke-width="0.8"/>
<path d="M537 396.7 L615.8 396.7" fill="none" stroke="#555" stroke-width="0.8"/>
<path d="M548 412.2 L614.7 412.2" fill="none" stroke="#111" stroke-width="2"/>
<path d="M556 426 L590 426" fill="none" stroke="#111" stroke-width="2"/>
<path d="M578 436.5 L590 436.5" fill="none" stroke="#888" stroke-width="0.8"/>
<path d="M541 459.2 L615.8 459.2" fill="none" stroke="#555" stroke-width="0.8"/>
<text x="619.7" y="353.7" font-size="5.5" textLength="48.8" lengthAdjust="spacingAndGlyphs" stroke="#333" stroke-width="0.22" fill="#333">Superior colliculus</text>
<text x="619.7" y="364.9" font-size="5.5" textLength="32.1" lengthAdjust="spacingAndGlyphs" stroke="#333" stroke-width="0.22" fill="#333">Gray matter</text>
<text x="619.7" y="375.2" font-size="5.5" textLength="49.5" lengthAdjust="spacingAndGlyphs" stroke="#333" stroke-width="0.22" fill="#333">Cerebral aqueduct</text>
<text x="619.7" y="386.4" font-size="5.5" textLength="69.3" lengthAdjust="spacingAndGlyphs" stroke="#333" stroke-width="0.22" fill="#333">Medial geniculate nucleus</text>
<text x="619.7" y="399.3" font-size="5.5" textLength="53.2" lengthAdjust="spacingAndGlyphs" stroke="#333" stroke-width="0.22" fill="#333">Oculomotor nucleus</text>
<text x="620.1" y="416.5" font-size="12" font-weight="bold" textLength="70.6" lengthAdjust="spacingAndGlyphs" fill="#1a1a1a">Red nucleus</text>
<text x="695.4" y="418" font-size="8.5" textLength="17.3" lengthAdjust="spacingAndGlyphs" fill="#555" font-weight="500">적핵</text>
<text x="596.5" y="435.4" font-size="12" font-weight="bold" textLength="94.2" lengthAdjust="spacingAndGlyphs" fill="#1a1a1a">Substantia nigra</text>
<text x="699.7" y="437.5" font-size="8.5" textLength="16.2" lengthAdjust="spacingAndGlyphs" fill="#555" font-weight="500">흑질</text>
<text x="619.7" y="444.1" font-size="5" textLength="63.9" lengthAdjust="spacingAndGlyphs" stroke="#444" stroke-width="0.22" fill="#444">and corticobulbar axons</text>
<text x="619.7" y="461.3" font-size="5.5" textLength="43" lengthAdjust="spacingAndGlyphs" stroke="#333" stroke-width="0.22" fill="#333">Cranial nerve III</text>
<text x="619.7" y="468.4" font-size="5.2" textLength="33.8" lengthAdjust="spacingAndGlyphs" stroke="#333" stroke-width="0.22" fill="#333">(oculomotor)</text>
</g>
<rect x="515.5" y="478.5" width="218.5" height="23.5" fill="#808080" fill-opacity="0.85"/>
<text x="524" y="494.5" font-size="15.6" textLength="202" lengthAdjust="spacingAndGlyphs" fill="#ffffff">http://blog.naver.com/hunimal</text>
</svg>
</body></html>
